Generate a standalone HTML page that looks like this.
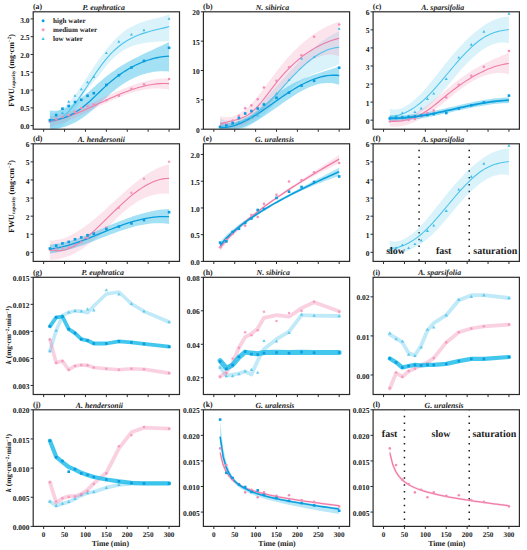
<!DOCTYPE html>
<html><head><meta charset="utf-8"><style>html,body{margin:0;padding:0;background:#fff;width:527px;height:550px;overflow:hidden}svg{display:block}</style></head>
<body><svg text-rendering="geometricPrecision" width="527" height="550" viewBox="0 0 527 550">
<rect width="527" height="550" fill="#fff"/>
<clipPath id="c00"><rect x="33.2" y="11.8" width="146.3" height="117.4"/></clipPath>
<g clip-path="url(#c00)">
<path d="M49.9,110.51 L52.95,110.84 L56.01,110.75 L59.06,110.27 L62.12,109.43 L65.17,108.26 L68.22,106.8 L71.28,105.07 L74.33,103.11 L77.38,100.95 L80.44,98.61 L83.49,96.14 L86.55,93.56 L89.6,90.91 L92.65,88.21 L95.71,85.5 L98.76,82.81 L101.82,80.17 L104.87,77.61 L107.92,75.16 L110.98,72.85 L114.03,70.65 L117.08,68.57 L120.14,66.6 L123.19,64.72 L126.25,62.93 L129.3,61.21 L132.35,59.57 L135.41,57.98 L138.46,56.45 L141.52,54.96 L144.57,53.5 L147.62,52.07 L150.68,50.66 L153.73,49.25 L156.78,47.85 L159.84,46.43 L162.89,45 L165.95,43.54 L169,42.04 L169,71.62 L165.95,71.36 L162.89,71.26 L159.84,71.31 L156.78,71.51 L153.73,71.87 L150.68,72.39 L147.62,73.06 L144.57,73.89 L141.52,74.87 L138.46,76.01 L135.41,77.31 L132.35,78.75 L129.3,80.36 L126.25,82.12 L123.19,84.03 L120.14,86.1 L117.08,88.32 L114.03,90.69 L110.98,93.23 L107.92,95.91 L104.87,98.71 L101.82,101.58 L98.76,104.45 L95.71,107.29 L92.65,110.03 L89.6,112.62 L86.55,115.03 L83.49,117.26 L80.44,119.3 L77.38,121.16 L74.33,122.83 L71.28,124.31 L68.22,125.6 L65.17,126.69 L62.12,127.59 L59.06,128.29 L56.01,128.8 L52.95,129.1 L49.9,129.19 Z" fill="#1cb4e6" fill-opacity="0.4"/>
<path d="M49.9,116.46 L52.95,115.99 L56.01,115.41 L59.06,114.73 L62.12,113.96 L65.17,113.1 L68.22,112.16 L71.28,111.14 L74.33,110.06 L77.38,108.92 L80.44,107.72 L83.49,106.47 L86.55,105.19 L89.6,103.86 L92.65,102.51 L95.71,101.14 L98.76,99.75 L101.82,98.35 L104.87,96.95 L107.92,95.56 L110.98,94.17 L114.03,92.8 L117.08,91.46 L120.14,90.15 L123.19,88.87 L126.25,87.64 L129.3,86.45 L132.35,85.32 L135.41,84.26 L138.46,83.26 L141.52,82.34 L144.57,81.51 L147.62,80.76 L150.68,80.1 L153.73,79.55 L156.78,79.11 L159.84,78.78 L162.89,78.58 L165.95,78.5 L169,78.56 L169,89.58 L165.95,89.07 L162.89,88.72 L159.84,88.52 L156.78,88.47 L153.73,88.57 L150.68,88.79 L147.62,89.14 L144.57,89.61 L141.52,90.2 L138.46,90.89 L135.41,91.68 L132.35,92.57 L129.3,93.54 L126.25,94.59 L123.19,95.71 L120.14,96.9 L117.08,98.15 L114.03,99.46 L110.98,100.8 L107.92,102.19 L104.87,103.61 L101.82,105.06 L98.76,106.53 L95.71,108.01 L92.65,109.49 L89.6,110.97 L86.55,112.45 L83.49,113.91 L80.44,115.35 L77.38,116.77 L74.33,118.14 L71.28,119.48 L68.22,120.77 L65.17,122 L62.12,123.18 L59.06,124.28 L56.01,125.31 L52.95,126.26 L49.9,127.12 Z" fill="#f07aa5" fill-opacity="0.2"/>
<path d="M49.9,113.29 L52.96,113.14 L56.02,112.27 L59.08,110.76 L62.15,108.65 L65.21,106.01 L68.27,102.91 L71.33,99.39 L74.39,95.53 L77.45,91.39 L80.52,87.03 L83.58,82.5 L86.64,77.87 L89.7,73.21 L92.76,68.57 L95.82,64.01 L98.88,59.58 L101.95,55.31 L105.01,51.22 L108.07,47.34 L111.13,43.69 L114.19,40.3 L117.25,37.2 L120.32,34.41 L123.38,31.93 L126.44,29.75 L129.5,27.83 L132.56,26.14 L135.62,24.66 L138.68,23.37 L141.75,22.24 L144.81,21.23 L147.87,20.32 L150.93,19.49 L153.99,18.71 L157.05,17.95 L160.12,17.19 L163.18,16.39 L166.24,15.53 L169.3,14.59 L169.3,41.1 L166.24,41.27 L163.18,41.41 L160.12,41.55 L157.05,41.7 L153.99,41.89 L150.93,42.14 L147.87,42.46 L144.81,42.89 L141.75,43.44 L138.68,44.14 L135.62,45 L132.56,46.05 L129.5,47.31 L126.44,48.8 L123.38,50.54 L120.32,52.55 L117.25,54.85 L114.19,57.48 L111.13,60.44 L108.07,63.76 L105.01,67.45 L101.95,71.41 L98.88,75.4 L95.82,79.22 L92.76,82.75 L89.7,86.3 L86.64,90.27 L83.58,95.05 L80.52,100.58 L77.45,106.34 L74.39,111.81 L71.33,116.59 L68.27,120.61 L65.21,123.85 L62.15,126.31 L59.08,127.96 L56.02,128.8 L52.96,128.79 L49.9,127.93 Z" fill="#4ec4ec" fill-opacity="0.21"/>
<path d="M49.9,120.95 L52.96,121.14 L56.02,120.56 L59.08,119.28 L62.15,117.36 L65.21,114.87 L68.27,111.88 L71.33,108.44 L74.39,104.64 L77.45,100.52 L80.52,96.16 L83.58,91.63 L86.64,86.98 L89.7,82.29 L92.76,77.61 L95.82,73.02 L98.88,68.57 L101.95,64.34 L105.01,60.39 L108.07,56.77 L111.13,53.47 L114.19,50.47 L117.25,47.75 L120.32,45.29 L123.38,43.07 L126.44,41.08 L129.5,39.3 L132.56,37.71 L135.62,36.29 L138.68,35.02 L141.75,33.88 L144.81,32.86 L147.87,31.93 L150.93,31.08 L153.99,30.29 L157.05,29.54 L160.12,28.81 L163.18,28.09 L166.24,27.35 L169.3,26.57" fill="none" stroke="#4ec4ec" stroke-width="1.1" stroke-opacity="1" stroke-linejoin="round" stroke-linecap="butt"/>
<path d="M49.9,121.58 L52.95,120.94 L56.01,120.21 L59.06,119.39 L62.12,118.49 L65.17,117.51 L68.22,116.46 L71.28,115.35 L74.33,114.18 L77.38,112.96 L80.44,111.7 L83.49,110.4 L86.55,109.07 L89.6,107.71 L92.65,106.33 L95.71,104.94 L98.76,103.54 L101.82,102.14 L104.87,100.74 L107.92,99.36 L110.98,97.99 L114.03,96.65 L117.08,95.34 L120.14,94.06 L123.19,92.83 L126.25,91.65 L129.3,90.52 L132.35,89.45 L135.41,88.45 L138.46,87.52 L141.52,86.67 L144.57,85.91 L147.62,85.24 L150.68,84.67 L153.73,84.21 L156.78,83.85 L159.84,83.62 L162.89,83.5 L165.95,83.52 L169,83.67" fill="none" stroke="#f07aa5" stroke-width="1.1" stroke-opacity="1" stroke-linejoin="round" stroke-linecap="butt"/>
<path d="M49.9,119.91 L52.95,119.91 L56.01,119.65 L59.06,119.13 L62.12,118.37 L65.17,117.36 L68.22,116.12 L71.28,114.65 L74.33,112.96 L77.38,111.05 L80.44,108.93 L83.49,106.62 L86.55,104.1 L89.6,101.4 L92.65,98.56 L95.71,95.64 L98.76,92.68 L101.82,89.73 L104.87,86.85 L107.92,84.08 L110.98,81.45 L114.03,78.96 L117.08,76.61 L120.14,74.39 L123.19,72.3 L126.25,70.35 L129.3,68.53 L132.35,66.83 L135.41,65.27 L138.46,63.83 L141.52,62.51 L144.57,61.32 L147.62,60.25 L150.68,59.3 L153.73,58.47 L156.78,57.75 L159.84,57.15 L162.89,56.67 L165.95,56.3 L169,56.04" fill="none" stroke="#0a9fdc" stroke-width="1.3" stroke-opacity="1" stroke-linejoin="round" stroke-linecap="butt"/>
<path d="M49.92,119.89 L51.46,122.55 L48.38,122.55 Z" fill="#40bde8" fill-opacity="1"/>
<path d="M56.19,116.89 L57.73,119.55 L54.65,119.55 Z" fill="#40bde8" fill-opacity="1"/>
<path d="M62.46,111.39 L64,114.05 L60.92,114.05 Z" fill="#40bde8" fill-opacity="1"/>
<path d="M68.73,100.09 L70.27,102.75 L67.19,102.75 Z" fill="#40bde8" fill-opacity="1"/>
<path d="M75,94.19 L76.54,96.85 L73.46,96.85 Z" fill="#40bde8" fill-opacity="1"/>
<path d="M81.27,87.69 L82.81,90.35 L79.73,90.35 Z" fill="#40bde8" fill-opacity="1"/>
<path d="M87.54,80.69 L89.08,83.35 L86,83.35 Z" fill="#40bde8" fill-opacity="1"/>
<path d="M93.81,75.29 L95.35,77.95 L92.27,77.95 Z" fill="#40bde8" fill-opacity="1"/>
<path d="M106.35,51.39 L107.89,54.05 L104.81,54.05 Z" fill="#40bde8" fill-opacity="1"/>
<path d="M118.89,39.99 L120.43,42.65 L117.35,42.65 Z" fill="#40bde8" fill-opacity="1"/>
<path d="M131.43,32.89 L132.97,35.55 L129.89,35.55 Z" fill="#40bde8" fill-opacity="1"/>
<path d="M143.97,28.59 L145.51,31.25 L142.43,31.25 Z" fill="#40bde8" fill-opacity="1"/>
<path d="M169.05,17.19 L170.59,19.85 L167.51,19.85 Z" fill="#40bde8" fill-opacity="1"/>
<circle cx="49.92" cy="121" r="1.3" fill="#f48fb8" fill-opacity="1"/>
<circle cx="56.19" cy="119" r="1.3" fill="#f48fb8" fill-opacity="1"/>
<circle cx="62.46" cy="117" r="1.3" fill="#f48fb8" fill-opacity="1"/>
<circle cx="68.73" cy="115" r="1.3" fill="#f48fb8" fill-opacity="1"/>
<circle cx="75" cy="111.9" r="1.3" fill="#f48fb8" fill-opacity="1"/>
<circle cx="81.27" cy="108" r="1.3" fill="#f48fb8" fill-opacity="1"/>
<circle cx="87.54" cy="106" r="1.3" fill="#f48fb8" fill-opacity="1"/>
<circle cx="93.81" cy="104.6" r="1.3" fill="#f48fb8" fill-opacity="1"/>
<circle cx="106.35" cy="100.2" r="1.3" fill="#f48fb8" fill-opacity="1"/>
<circle cx="118.89" cy="95.7" r="1.3" fill="#f48fb8" fill-opacity="1"/>
<circle cx="131.43" cy="88.8" r="1.3" fill="#f48fb8" fill-opacity="1"/>
<circle cx="143.97" cy="84.3" r="1.3" fill="#f48fb8" fill-opacity="1"/>
<circle cx="169.05" cy="79" r="1.3" fill="#f48fb8" fill-opacity="1"/>
<rect x="48.62" y="118.9" width="2.6" height="2.6" fill="#0a9ce0" fill-opacity="1"/>
<rect x="54.89" y="113.8" width="2.6" height="2.6" fill="#0a9ce0" fill-opacity="1"/>
<rect x="61.16" y="107.4" width="2.6" height="2.6" fill="#0a9ce0" fill-opacity="1"/>
<rect x="67.43" y="104.7" width="2.6" height="2.6" fill="#0a9ce0" fill-opacity="1"/>
<rect x="73.7" y="100.7" width="2.6" height="2.6" fill="#0a9ce0" fill-opacity="1"/>
<rect x="79.97" y="98.5" width="2.6" height="2.6" fill="#0a9ce0" fill-opacity="1"/>
<rect x="86.24" y="94.5" width="2.6" height="2.6" fill="#0a9ce0" fill-opacity="1"/>
<rect x="92.51" y="91.9" width="2.6" height="2.6" fill="#0a9ce0" fill-opacity="1"/>
<rect x="105.05" y="83.6" width="2.6" height="2.6" fill="#0a9ce0" fill-opacity="1"/>
<rect x="117.59" y="73.9" width="2.6" height="2.6" fill="#0a9ce0" fill-opacity="1"/>
<rect x="130.13" y="66.2" width="2.6" height="2.6" fill="#0a9ce0" fill-opacity="1"/>
<rect x="142.67" y="59.6" width="2.6" height="2.6" fill="#0a9ce0" fill-opacity="1"/>
<rect x="167.75" y="46.5" width="2.6" height="2.6" fill="#0a9ce0" fill-opacity="1"/>
</g>
<rect x="33.2" y="11.8" width="146.3" height="117.4" fill="none" stroke="#2b2b2b" stroke-width="1.2"/>
<line x1="30.6" y1="125.64" x2="33.2" y2="125.64" stroke="#2b2b2b" stroke-width="1"/>
<text x="29.6" y="129.24" text-anchor="end" style="font-family:'Liberation Serif',serif;font-weight:bold;font-size:7.5px" fill="#1a1a1a">0.0</text>
<line x1="30.6" y1="107.85" x2="33.2" y2="107.85" stroke="#2b2b2b" stroke-width="1"/>
<text x="29.6" y="111.45" text-anchor="end" style="font-family:'Liberation Serif',serif;font-weight:bold;font-size:7.5px" fill="#1a1a1a">0.5</text>
<line x1="30.6" y1="90.07" x2="33.2" y2="90.07" stroke="#2b2b2b" stroke-width="1"/>
<text x="29.6" y="93.67" text-anchor="end" style="font-family:'Liberation Serif',serif;font-weight:bold;font-size:7.5px" fill="#1a1a1a">1.0</text>
<line x1="30.6" y1="72.28" x2="33.2" y2="72.28" stroke="#2b2b2b" stroke-width="1"/>
<text x="29.6" y="75.88" text-anchor="end" style="font-family:'Liberation Serif',serif;font-weight:bold;font-size:7.5px" fill="#1a1a1a">1.5</text>
<line x1="30.6" y1="54.49" x2="33.2" y2="54.49" stroke="#2b2b2b" stroke-width="1"/>
<text x="29.6" y="58.09" text-anchor="end" style="font-family:'Liberation Serif',serif;font-weight:bold;font-size:7.5px" fill="#1a1a1a">2.0</text>
<line x1="30.6" y1="36.7" x2="33.2" y2="36.7" stroke="#2b2b2b" stroke-width="1"/>
<text x="29.6" y="40.3" text-anchor="end" style="font-family:'Liberation Serif',serif;font-weight:bold;font-size:7.5px" fill="#1a1a1a">2.5</text>
<line x1="30.6" y1="18.92" x2="33.2" y2="18.92" stroke="#2b2b2b" stroke-width="1"/>
<text x="29.6" y="22.52" text-anchor="end" style="font-family:'Liberation Serif',serif;font-weight:bold;font-size:7.5px" fill="#1a1a1a">3.0</text>
<line x1="43.65" y1="129.2" x2="43.65" y2="131.8" stroke="#2b2b2b" stroke-width="1"/>
<line x1="64.55" y1="129.2" x2="64.55" y2="131.8" stroke="#2b2b2b" stroke-width="1"/>
<line x1="85.45" y1="129.2" x2="85.45" y2="131.8" stroke="#2b2b2b" stroke-width="1"/>
<line x1="106.35" y1="129.2" x2="106.35" y2="131.8" stroke="#2b2b2b" stroke-width="1"/>
<line x1="127.25" y1="129.2" x2="127.25" y2="131.8" stroke="#2b2b2b" stroke-width="1"/>
<line x1="148.15" y1="129.2" x2="148.15" y2="131.8" stroke="#2b2b2b" stroke-width="1"/>
<line x1="169.05" y1="129.2" x2="169.05" y2="131.8" stroke="#2b2b2b" stroke-width="1"/>
<text x="32.9" y="9" style="font-family:'Liberation Serif',serif;font-weight:bold;font-size:7.8px" fill="#1a1a1a">(a)</text>
<text x="103.7" y="9.7" text-anchor="middle" style="font-family:'Liberation Serif',serif;font-weight:bold;font-style:italic;font-size:7.8px" fill="#1a1a1a">P. euphratica</text>
<circle cx="43.1" cy="20.8" r="1.5" fill="#0aa0e2"/>
<text x="53.1" y="23.2" style="font-family:'Liberation Serif',serif;font-weight:bold;font-size:7.1px" fill="#1a1a1a">high water</text>
<circle cx="43.1" cy="29.8" r="1.5" fill="#f59ac0"/>
<text x="53.1" y="32.2" style="font-family:'Liberation Serif',serif;font-weight:bold;font-size:7.1px" fill="#1a1a1a">medium water</text>
<path d="M43.1,37.1 L44.8,39.9 L41.4,39.9 Z" fill="#4fc4ec"/>
<text x="53.1" y="41.2" style="font-family:'Liberation Serif',serif;font-weight:bold;font-size:7.1px" fill="#1a1a1a">low water</text>
<clipPath id="c10"><rect x="203.4" y="11.8" width="146.2" height="117.4"/></clipPath>
<g clip-path="url(#c10)">
<path d="M220.1,118.19 L223.15,119.73 L226.21,120.72 L229.26,121.2 L232.32,121.18 L235.37,120.71 L238.42,119.82 L241.48,118.54 L244.53,116.9 L247.58,114.93 L250.64,112.67 L253.69,110.15 L256.75,107.4 L259.8,104.45 L262.85,101.34 L265.91,98.1 L268.96,94.76 L272.02,91.35 L275.07,87.91 L278.12,84.46 L281.18,81.03 L284.23,77.63 L287.28,74.27 L290.34,70.94 L293.39,67.68 L296.45,64.47 L299.5,61.34 L302.55,58.29 L305.61,55.33 L308.66,52.47 L311.72,49.72 L314.77,47.08 L317.82,44.57 L320.88,42.2 L323.93,39.97 L326.98,37.9 L330.04,35.99 L333.09,34.25 L336.15,32.69 L339.2,31.32 L339.2,64.28 L336.15,65.59 L333.09,66.8 L330.04,67.94 L326.98,69.03 L323.93,70.1 L320.88,71.2 L317.82,72.34 L314.77,73.55 L311.72,74.87 L308.66,76.33 L305.61,77.95 L302.55,79.77 L299.5,81.81 L296.45,84.07 L293.39,86.52 L290.34,89.13 L287.28,91.87 L284.23,94.71 L281.18,97.64 L278.12,100.62 L275.07,103.62 L272.02,106.61 L268.96,109.58 L265.91,112.48 L262.85,115.3 L259.8,118 L256.75,120.56 L253.69,122.95 L250.64,125.14 L247.58,127.11 L244.53,128.82 L241.48,130.25 L238.42,131.38 L235.37,132.17 L232.32,132.6 L229.26,132.64 L226.21,132.25 L223.15,131.43 L220.1,130.13 Z" fill="#4ec4ec" fill-opacity="0.21"/>
<path d="M220.1,121.89 L223.15,122.65 L226.21,123.04 L229.26,123.07 L232.32,122.77 L235.37,122.16 L238.42,121.24 L241.48,120.05 L244.53,118.61 L247.58,116.92 L250.64,115.02 L253.69,112.91 L256.75,110.63 L259.8,108.18 L262.85,105.62 L265.91,102.99 L268.96,100.35 L272.02,97.75 L275.07,95.24 L278.12,92.89 L281.18,90.69 L284.23,88.66 L287.28,86.76 L290.34,85.01 L293.39,83.37 L296.45,81.85 L299.5,80.44 L302.55,79.11 L305.61,77.87 L308.66,76.69 L311.72,75.58 L314.77,74.51 L317.82,73.48 L320.88,72.48 L323.93,71.49 L326.98,70.51 L330.04,69.53 L333.09,68.53 L336.15,67.5 L339.2,66.44 L339.2,84.85 L336.15,83.94 L333.09,83.32 L330.04,83 L326.98,82.95 L323.93,83.16 L320.88,83.61 L317.82,84.29 L314.77,85.18 L311.72,86.26 L308.66,87.52 L305.61,88.94 L302.55,90.51 L299.5,92.21 L296.45,94.02 L293.39,95.93 L290.34,97.93 L287.28,99.99 L284.23,102.1 L281.18,104.24 L278.12,106.41 L275.07,108.58 L272.02,110.73 L268.96,112.85 L265.91,114.93 L262.85,116.95 L259.8,118.89 L256.75,120.74 L253.69,122.48 L250.64,124.09 L247.58,125.56 L244.53,126.88 L241.48,128.02 L238.42,128.98 L235.37,129.73 L232.32,130.26 L229.26,130.55 L226.21,130.59 L223.15,130.36 L220.1,129.85 Z" fill="#1cb4e6" fill-opacity="0.4"/>
<path d="M220.1,116.1 L223.15,116.89 L226.21,117.21 L229.26,117.07 L232.32,116.48 L235.37,115.47 L238.42,114.04 L241.48,112.21 L244.53,110 L247.58,107.41 L250.64,104.47 L253.69,101.19 L256.75,97.61 L259.8,93.79 L262.85,89.8 L265.91,85.7 L268.96,81.54 L272.02,77.39 L275.07,73.3 L278.12,69.33 L281.18,65.52 L284.23,61.86 L287.28,58.35 L290.34,54.99 L293.39,51.78 L296.45,48.73 L299.5,45.82 L302.55,43.07 L305.61,40.47 L308.66,38.02 L311.72,35.72 L314.77,33.57 L317.82,31.56 L320.88,29.71 L323.93,28.01 L326.98,26.45 L330.04,25.04 L333.09,23.78 L336.15,22.67 L339.2,21.71 L339.2,56.13 L336.15,55.25 L333.09,54.73 L330.04,54.57 L326.98,54.76 L323.93,55.28 L320.88,56.14 L317.82,57.31 L314.77,58.8 L311.72,60.58 L308.66,62.65 L305.61,64.97 L302.55,67.54 L299.5,70.33 L296.45,73.32 L293.39,76.49 L290.34,79.82 L287.28,83.29 L284.23,86.86 L281.18,90.5 L278.12,94.15 L275.07,97.78 L272.02,101.33 L268.96,104.77 L265.91,108.06 L262.85,111.14 L259.8,113.99 L256.75,116.6 L253.69,118.98 L250.64,121.1 L247.58,122.97 L244.53,124.59 L241.48,125.95 L238.42,127.04 L235.37,127.87 L232.32,128.42 L229.26,128.69 L226.21,128.67 L223.15,128.37 L220.1,127.78 Z" fill="#f07aa5" fill-opacity="0.2"/>
<path d="M220.1,126.3 L223.15,126.11 L226.21,125.77 L229.26,125.29 L232.32,124.65 L235.37,123.84 L238.42,122.86 L241.48,121.7 L244.53,120.36 L247.58,118.81 L250.64,117.06 L253.69,115.09 L256.75,112.9 L259.8,110.48 L262.85,107.85 L265.91,105.03 L268.96,102.05 L272.02,98.94 L275.07,95.72 L278.12,92.42 L281.18,89.07 L284.23,85.7 L287.28,82.33 L290.34,78.99 L293.39,75.72 L296.45,72.54 L299.5,69.48 L302.55,66.57 L305.61,63.82 L308.66,61.26 L311.72,58.88 L314.77,56.69 L317.82,54.72 L320.88,52.95 L323.93,51.4 L326.98,50.08 L330.04,49 L333.09,48.17 L336.15,47.59 L339.2,47.28" fill="none" stroke="#4ec4ec" stroke-width="1.1" stroke-opacity="1" stroke-linejoin="round" stroke-linecap="butt"/>
<path d="M220.1,124.27 L223.15,123.13 L226.21,122.22 L229.26,121.44 L232.32,120.71 L235.37,119.96 L238.42,119.11 L241.48,118.07 L244.53,116.76 L247.58,115.11 L250.64,113.03 L253.69,110.45 L256.75,107.4 L259.8,103.98 L262.85,100.27 L265.91,96.37 L268.96,92.35 L272.02,88.3 L275.07,84.32 L278.12,80.49 L281.18,76.84 L284.23,73.38 L287.28,70.11 L290.34,67.01 L293.39,64.08 L296.45,61.33 L299.5,58.74 L302.55,56.31 L305.61,54.04 L308.66,51.92 L311.72,49.96 L314.77,48.14 L317.82,46.46 L320.88,44.92 L323.93,43.51 L326.98,42.23 L330.04,41.08 L333.09,40.04 L336.15,39.13 L339.2,38.33" fill="none" stroke="#f07aa5" stroke-width="1.1" stroke-opacity="1" stroke-linejoin="round" stroke-linecap="butt"/>
<path d="M220.1,127.48 L223.15,127.54 L226.21,127.33 L229.26,126.88 L232.32,126.19 L235.37,125.3 L238.42,124.21 L241.48,122.94 L244.53,121.5 L247.58,119.92 L250.64,118.21 L253.69,116.38 L256.75,114.45 L259.8,112.45 L262.85,110.38 L265.91,108.26 L268.96,106.1 L272.02,103.93 L275.07,101.77 L278.12,99.61 L281.18,97.49 L284.23,95.41 L287.28,93.38 L290.34,91.4 L293.39,89.49 L296.45,87.66 L299.5,85.92 L302.55,84.27 L305.61,82.73 L308.66,81.31 L311.72,80.01 L314.77,78.84 L317.82,77.82 L320.88,76.95 L323.93,76.25 L326.98,75.72 L330.04,75.37 L333.09,75.21 L336.15,75.26 L339.2,75.51" fill="none" stroke="#0a9fdc" stroke-width="1.3" stroke-opacity="1" stroke-linejoin="round" stroke-linecap="butt"/>
<path d="M220.11,125.39 L221.65,128.05 L218.57,128.05 Z" fill="#40bde8" fill-opacity="1"/>
<path d="M226.37,124.39 L227.91,127.05 L224.83,127.05 Z" fill="#40bde8" fill-opacity="1"/>
<path d="M232.64,122.39 L234.18,125.05 L231.1,125.05 Z" fill="#40bde8" fill-opacity="1"/>
<path d="M238.91,120.39 L240.45,123.05 L237.37,123.05 Z" fill="#40bde8" fill-opacity="1"/>
<path d="M245.17,118.39 L246.71,121.05 L243.63,121.05 Z" fill="#40bde8" fill-opacity="1"/>
<path d="M251.44,116.39 L252.98,119.05 L249.9,119.05 Z" fill="#40bde8" fill-opacity="1"/>
<path d="M257.7,113.89 L259.24,116.55 L256.16,116.55 Z" fill="#40bde8" fill-opacity="1"/>
<path d="M263.97,102.39 L265.51,105.05 L262.43,105.05 Z" fill="#40bde8" fill-opacity="1"/>
<path d="M276.5,92.09 L278.04,94.75 L274.96,94.75 Z" fill="#40bde8" fill-opacity="1"/>
<path d="M289.03,78.39 L290.57,81.05 L287.49,81.05 Z" fill="#40bde8" fill-opacity="1"/>
<path d="M301.56,56.79 L303.1,59.45 L300.02,59.45 Z" fill="#40bde8" fill-opacity="1"/>
<path d="M314.09,55.39 L315.63,58.05 L312.55,58.05 Z" fill="#40bde8" fill-opacity="1"/>
<path d="M339.16,27.19 L340.7,29.85 L337.62,29.85 Z" fill="#40bde8" fill-opacity="1"/>
<circle cx="220.11" cy="126.5" r="1.3" fill="#f48fb8" fill-opacity="1"/>
<circle cx="226.37" cy="124.3" r="1.3" fill="#f48fb8" fill-opacity="1"/>
<circle cx="232.64" cy="120.6" r="1.3" fill="#f48fb8" fill-opacity="1"/>
<circle cx="238.91" cy="115.8" r="1.3" fill="#f48fb8" fill-opacity="1"/>
<circle cx="245.17" cy="108.3" r="1.3" fill="#f48fb8" fill-opacity="1"/>
<circle cx="251.44" cy="105.4" r="1.3" fill="#f48fb8" fill-opacity="1"/>
<circle cx="257.7" cy="99.3" r="1.3" fill="#f48fb8" fill-opacity="1"/>
<circle cx="263.97" cy="87.5" r="1.3" fill="#f48fb8" fill-opacity="1"/>
<circle cx="276.5" cy="80.8" r="1.3" fill="#f48fb8" fill-opacity="1"/>
<circle cx="289.03" cy="67.3" r="1.3" fill="#f48fb8" fill-opacity="1"/>
<circle cx="301.56" cy="55.2" r="1.3" fill="#f48fb8" fill-opacity="1"/>
<circle cx="314.09" cy="36.8" r="1.3" fill="#f48fb8" fill-opacity="1"/>
<circle cx="339.16" cy="24.5" r="1.3" fill="#f48fb8" fill-opacity="1"/>
<rect x="218.81" y="125.7" width="2.6" height="2.6" fill="#0a9ce0" fill-opacity="1"/>
<rect x="225.07" y="124.2" width="2.6" height="2.6" fill="#0a9ce0" fill-opacity="1"/>
<rect x="231.34" y="121.7" width="2.6" height="2.6" fill="#0a9ce0" fill-opacity="1"/>
<rect x="237.61" y="116.7" width="2.6" height="2.6" fill="#0a9ce0" fill-opacity="1"/>
<rect x="243.87" y="112.2" width="2.6" height="2.6" fill="#0a9ce0" fill-opacity="1"/>
<rect x="250.14" y="109.7" width="2.6" height="2.6" fill="#0a9ce0" fill-opacity="1"/>
<rect x="256.4" y="107.2" width="2.6" height="2.6" fill="#0a9ce0" fill-opacity="1"/>
<rect x="262.67" y="103.2" width="2.6" height="2.6" fill="#0a9ce0" fill-opacity="1"/>
<rect x="275.2" y="96.5" width="2.6" height="2.6" fill="#0a9ce0" fill-opacity="1"/>
<rect x="287.73" y="91.3" width="2.6" height="2.6" fill="#0a9ce0" fill-opacity="1"/>
<rect x="300.26" y="84.3" width="2.6" height="2.6" fill="#0a9ce0" fill-opacity="1"/>
<rect x="312.79" y="79.5" width="2.6" height="2.6" fill="#0a9ce0" fill-opacity="1"/>
<rect x="337.86" y="66.4" width="2.6" height="2.6" fill="#0a9ce0" fill-opacity="1"/>
</g>
<rect x="203.4" y="11.8" width="146.2" height="117.4" fill="none" stroke="#2b2b2b" stroke-width="1.2"/>
<line x1="200.8" y1="129.2" x2="203.4" y2="129.2" stroke="#2b2b2b" stroke-width="1"/>
<text x="199.8" y="132.8" text-anchor="end" style="font-family:'Liberation Serif',serif;font-weight:bold;font-size:7.5px" fill="#1a1a1a">0</text>
<line x1="200.8" y1="99.85" x2="203.4" y2="99.85" stroke="#2b2b2b" stroke-width="1"/>
<text x="199.8" y="103.45" text-anchor="end" style="font-family:'Liberation Serif',serif;font-weight:bold;font-size:7.5px" fill="#1a1a1a">5</text>
<line x1="200.8" y1="70.5" x2="203.4" y2="70.5" stroke="#2b2b2b" stroke-width="1"/>
<text x="199.8" y="74.1" text-anchor="end" style="font-family:'Liberation Serif',serif;font-weight:bold;font-size:7.5px" fill="#1a1a1a">10</text>
<line x1="200.8" y1="41.15" x2="203.4" y2="41.15" stroke="#2b2b2b" stroke-width="1"/>
<text x="199.8" y="44.75" text-anchor="end" style="font-family:'Liberation Serif',serif;font-weight:bold;font-size:7.5px" fill="#1a1a1a">15</text>
<line x1="200.8" y1="11.8" x2="203.4" y2="11.8" stroke="#2b2b2b" stroke-width="1"/>
<text x="199.8" y="15.4" text-anchor="end" style="font-family:'Liberation Serif',serif;font-weight:bold;font-size:7.5px" fill="#1a1a1a">20</text>
<line x1="213.84" y1="129.2" x2="213.84" y2="131.8" stroke="#2b2b2b" stroke-width="1"/>
<line x1="234.73" y1="129.2" x2="234.73" y2="131.8" stroke="#2b2b2b" stroke-width="1"/>
<line x1="255.61" y1="129.2" x2="255.61" y2="131.8" stroke="#2b2b2b" stroke-width="1"/>
<line x1="276.5" y1="129.2" x2="276.5" y2="131.8" stroke="#2b2b2b" stroke-width="1"/>
<line x1="297.39" y1="129.2" x2="297.39" y2="131.8" stroke="#2b2b2b" stroke-width="1"/>
<line x1="318.27" y1="129.2" x2="318.27" y2="131.8" stroke="#2b2b2b" stroke-width="1"/>
<line x1="339.16" y1="129.2" x2="339.16" y2="131.8" stroke="#2b2b2b" stroke-width="1"/>
<text x="203.1" y="9" style="font-family:'Liberation Serif',serif;font-weight:bold;font-size:7.8px" fill="#1a1a1a">(b)</text>
<text x="272.4" y="9.7" text-anchor="middle" style="font-family:'Liberation Serif',serif;font-weight:bold;font-style:italic;font-size:7.8px" fill="#1a1a1a">N. sibirica</text>
<clipPath id="c20"><rect x="373.1" y="11.8" width="146.3" height="117.4"/></clipPath>
<g clip-path="url(#c20)">
<path d="M389.8,108.85 L392.85,109.43 L395.91,109.46 L398.96,108.97 L402.02,108 L405.07,106.59 L408.12,104.77 L411.18,102.59 L414.23,100.07 L417.28,97.25 L420.34,94.18 L423.39,90.88 L426.45,87.39 L429.5,83.75 L432.55,79.99 L435.61,76.16 L438.66,72.29 L441.72,68.41 L444.77,64.56 L447.82,60.78 L450.88,57.09 L453.93,53.49 L456.98,50.01 L460.04,46.64 L463.09,43.4 L466.15,40.3 L469.2,37.34 L472.25,34.54 L475.31,31.91 L478.36,29.45 L481.42,27.17 L484.47,25.09 L487.52,23.21 L490.58,21.54 L493.63,20.1 L496.68,18.89 L499.74,17.91 L502.79,17.19 L505.85,16.73 L508.9,16.54 L508.9,43.2 L505.85,42.61 L502.79,42.42 L499.74,42.61 L496.68,43.15 L493.63,44.04 L490.58,45.24 L487.52,46.75 L484.47,48.54 L481.42,50.6 L478.36,52.91 L475.31,55.45 L472.25,58.2 L469.2,61.15 L466.15,64.28 L463.09,67.56 L460.04,70.99 L456.98,74.53 L453.93,78.16 L450.88,81.84 L447.82,85.51 L444.77,89.12 L441.72,92.64 L438.66,96.02 L435.61,99.25 L432.55,102.27 L429.5,105.08 L426.45,107.67 L423.39,110.04 L420.34,112.2 L417.28,114.14 L414.23,115.86 L411.18,117.37 L408.12,118.66 L405.07,119.73 L402.02,120.6 L398.96,121.24 L395.91,121.68 L392.85,121.9 L389.8,121.91 Z" fill="#4ec4ec" fill-opacity="0.21"/>
<path d="M389.8,117.31 L392.85,117.94 L395.91,118.2 L398.96,118.13 L402.02,117.74 L405.07,117.05 L408.12,116.08 L411.18,114.86 L414.23,113.41 L417.28,111.75 L420.34,109.91 L423.39,107.89 L426.45,105.74 L429.5,103.46 L432.55,101.08 L435.61,98.62 L438.66,96.1 L441.72,93.56 L444.77,90.99 L447.82,88.44 L450.88,85.92 L453.93,83.45 L456.98,81.06 L460.04,78.76 L463.09,76.56 L466.15,74.47 L469.2,72.48 L472.25,70.57 L475.31,68.75 L478.36,67.01 L481.42,65.35 L484.47,63.75 L487.52,62.22 L490.58,60.75 L493.63,59.33 L496.68,57.96 L499.74,56.63 L502.79,55.34 L505.85,54.08 L508.9,52.85 L508.9,74.27 L505.85,73.6 L502.79,73.19 L499.74,73.04 L496.68,73.12 L493.63,73.43 L490.58,73.96 L487.52,74.71 L484.47,75.66 L481.42,76.81 L478.36,78.14 L475.31,79.65 L472.25,81.32 L469.2,83.15 L466.15,85.14 L463.09,87.26 L460.04,89.51 L456.98,91.89 L453.93,94.36 L450.88,96.88 L447.82,99.42 L444.77,101.93 L441.72,104.38 L438.66,106.77 L435.61,109.08 L432.55,111.3 L429.5,113.42 L426.45,115.43 L423.39,117.31 L420.34,119.06 L417.28,120.66 L414.23,122.1 L411.18,123.37 L408.12,124.46 L405.07,125.36 L402.02,126.05 L398.96,126.52 L395.91,126.77 L392.85,126.78 L389.8,126.54 Z" fill="#f07aa5" fill-opacity="0.2"/>
<path d="M389.8,115.38 L392.85,115.48 L395.91,115.51 L398.96,115.46 L402.02,115.34 L405.07,115.15 L408.12,114.91 L411.18,114.6 L414.23,114.24 L417.28,113.83 L420.34,113.38 L423.39,112.88 L426.45,112.34 L429.5,111.76 L432.55,111.16 L435.61,110.53 L438.66,109.87 L441.72,109.2 L444.77,108.51 L447.82,107.81 L450.88,107.1 L453.93,106.39 L456.98,105.67 L460.04,104.96 L463.09,104.26 L466.15,103.57 L469.2,102.9 L472.25,102.25 L475.31,101.62 L478.36,101.01 L481.42,100.44 L484.47,99.9 L487.52,99.41 L490.58,98.95 L493.63,98.55 L496.68,98.19 L499.74,97.89 L502.79,97.64 L505.85,97.46 L508.9,97.35 L508.9,103.06 L505.85,103.15 L502.79,103.3 L499.74,103.52 L496.68,103.79 L493.63,104.12 L490.58,104.49 L487.52,104.91 L484.47,105.38 L481.42,105.88 L478.36,106.42 L475.31,106.99 L472.25,107.59 L469.2,108.21 L466.15,108.85 L463.09,109.51 L460.04,110.18 L456.98,110.86 L453.93,111.55 L450.88,112.24 L447.82,112.93 L444.77,113.62 L441.72,114.29 L438.66,114.95 L435.61,115.6 L432.55,116.23 L429.5,116.83 L426.45,117.41 L423.39,117.95 L420.34,118.47 L417.28,118.94 L414.23,119.37 L411.18,119.76 L408.12,120.1 L405.07,120.38 L402.02,120.61 L398.96,120.78 L395.91,120.89 L392.85,120.93 L389.8,120.9 Z" fill="#1cb4e6" fill-opacity="0.4"/>
<path d="M389.8,116.39 L392.85,116.19 L395.91,115.73 L398.96,115 L402.02,114.02 L405.07,112.79 L408.12,111.31 L411.18,109.58 L414.23,107.62 L417.28,105.42 L420.34,103 L423.39,100.36 L426.45,97.49 L429.5,94.42 L432.55,91.15 L435.61,87.74 L438.66,84.21 L441.72,80.59 L444.77,76.93 L447.82,73.25 L450.88,69.6 L453.93,65.98 L456.98,62.42 L460.04,58.96 L463.09,55.6 L466.15,52.37 L469.2,49.3 L472.25,46.41 L475.31,43.72 L478.36,41.25 L481.42,39.04 L484.47,37.09 L487.52,35.42 L490.58,34.01 L493.63,32.82 L496.68,31.85 L499.74,31.06 L502.79,30.43 L505.85,29.94 L508.9,29.55" fill="none" stroke="#4ec4ec" stroke-width="1.1" stroke-opacity="1" stroke-linejoin="round" stroke-linecap="butt"/>
<path d="M389.8,121.2 L392.85,121.36 L395.91,121.35 L398.96,121.16 L402.02,120.79 L405.07,120.24 L408.12,119.5 L411.18,118.58 L414.23,117.46 L417.28,116.16 L420.34,114.66 L423.39,112.96 L426.45,111.06 L429.5,108.96 L432.55,106.69 L435.61,104.28 L438.66,101.79 L441.72,99.26 L444.77,96.73 L447.82,94.24 L450.88,91.82 L453.93,89.48 L456.98,87.2 L460.04,85.01 L463.09,82.89 L466.15,80.86 L469.2,78.92 L472.25,77.08 L475.31,75.33 L478.36,73.68 L481.42,72.13 L484.47,70.69 L487.52,69.36 L490.58,68.15 L493.63,67.05 L496.68,66.07 L499.74,65.22 L502.79,64.5 L505.85,63.91 L508.9,63.46" fill="none" stroke="#f07aa5" stroke-width="1.1" stroke-opacity="1" stroke-linejoin="round" stroke-linecap="butt"/>
<path d="M389.8,118.2 L392.85,118.24 L395.91,118.21 L398.96,118.12 L402.02,117.96 L405.07,117.74 L408.12,117.47 L411.18,117.14 L414.23,116.77 L417.28,116.35 L420.34,115.89 L423.39,115.39 L426.45,114.86 L429.5,114.3 L432.55,113.7 L435.61,113.09 L438.66,112.45 L441.72,111.8 L444.77,111.13 L447.82,110.46 L450.88,109.77 L453.93,109.09 L456.98,108.4 L460.04,107.72 L463.09,107.05 L466.15,106.38 L469.2,105.74 L472.25,105.11 L475.31,104.5 L478.36,103.92 L481.42,103.37 L484.47,102.85 L487.52,102.36 L490.58,101.91 L493.63,101.51 L496.68,101.16 L499.74,100.85 L502.79,100.6 L505.85,100.4 L508.9,100.27" fill="none" stroke="#0a9fdc" stroke-width="1.8" stroke-opacity="1" stroke-linejoin="round" stroke-linecap="butt"/>
<path d="M389.82,116.39 L391.36,119.05 L388.28,119.05 Z" fill="#40bde8" fill-opacity="1"/>
<path d="M396.09,114.39 L397.63,117.05 L394.55,117.05 Z" fill="#40bde8" fill-opacity="1"/>
<path d="M402.36,111.39 L403.9,114.05 L400.82,114.05 Z" fill="#40bde8" fill-opacity="1"/>
<path d="M408.63,114.39 L410.17,117.05 L407.09,117.05 Z" fill="#40bde8" fill-opacity="1"/>
<path d="M414.9,110.39 L416.44,113.05 L413.36,113.05 Z" fill="#40bde8" fill-opacity="1"/>
<path d="M421.17,106.79 L422.71,109.45 L419.63,109.45 Z" fill="#40bde8" fill-opacity="1"/>
<path d="M427.44,97.29 L428.98,99.95 L425.9,99.95 Z" fill="#40bde8" fill-opacity="1"/>
<path d="M433.71,91.89 L435.25,94.55 L432.17,94.55 Z" fill="#40bde8" fill-opacity="1"/>
<path d="M446.25,77.29 L447.79,79.95 L444.71,79.95 Z" fill="#40bde8" fill-opacity="1"/>
<path d="M458.79,55.89 L460.33,58.55 L457.25,58.55 Z" fill="#40bde8" fill-opacity="1"/>
<path d="M471.33,42.99 L472.87,45.65 L469.79,45.65 Z" fill="#40bde8" fill-opacity="1"/>
<path d="M483.87,30.09 L485.41,32.75 L482.33,32.75 Z" fill="#40bde8" fill-opacity="1"/>
<path d="M508.95,12.09 L510.49,14.75 L507.41,14.75 Z" fill="#40bde8" fill-opacity="1"/>
<circle cx="389.82" cy="121.5" r="1.3" fill="#f48fb8" fill-opacity="1"/>
<circle cx="396.09" cy="121" r="1.3" fill="#f48fb8" fill-opacity="1"/>
<circle cx="402.36" cy="120.5" r="1.3" fill="#f48fb8" fill-opacity="1"/>
<circle cx="408.63" cy="120" r="1.3" fill="#f48fb8" fill-opacity="1"/>
<circle cx="414.9" cy="119" r="1.3" fill="#f48fb8" fill-opacity="1"/>
<circle cx="421.17" cy="116" r="1.3" fill="#f48fb8" fill-opacity="1"/>
<circle cx="427.44" cy="113" r="1.3" fill="#f48fb8" fill-opacity="1"/>
<circle cx="433.71" cy="110.6" r="1.3" fill="#f48fb8" fill-opacity="1"/>
<circle cx="446.25" cy="97.5" r="1.3" fill="#f48fb8" fill-opacity="1"/>
<circle cx="458.79" cy="84.9" r="1.3" fill="#f48fb8" fill-opacity="1"/>
<circle cx="471.33" cy="75.7" r="1.3" fill="#f48fb8" fill-opacity="1"/>
<circle cx="483.87" cy="66.7" r="1.3" fill="#f48fb8" fill-opacity="1"/>
<circle cx="508.95" cy="51" r="1.3" fill="#f48fb8" fill-opacity="1"/>
<rect x="388.52" y="117.2" width="2.6" height="2.6" fill="#0a9ce0" fill-opacity="1"/>
<rect x="394.79" y="116.7" width="2.6" height="2.6" fill="#0a9ce0" fill-opacity="1"/>
<rect x="401.06" y="116.2" width="2.6" height="2.6" fill="#0a9ce0" fill-opacity="1"/>
<rect x="407.33" y="115.7" width="2.6" height="2.6" fill="#0a9ce0" fill-opacity="1"/>
<rect x="413.6" y="115.2" width="2.6" height="2.6" fill="#0a9ce0" fill-opacity="1"/>
<rect x="419.87" y="114.2" width="2.6" height="2.6" fill="#0a9ce0" fill-opacity="1"/>
<rect x="426.14" y="113.7" width="2.6" height="2.6" fill="#0a9ce0" fill-opacity="1"/>
<rect x="432.41" y="112.7" width="2.6" height="2.6" fill="#0a9ce0" fill-opacity="1"/>
<rect x="444.95" y="111.7" width="2.6" height="2.6" fill="#0a9ce0" fill-opacity="1"/>
<rect x="457.49" y="107.2" width="2.6" height="2.6" fill="#0a9ce0" fill-opacity="1"/>
<rect x="470.03" y="104" width="2.6" height="2.6" fill="#0a9ce0" fill-opacity="1"/>
<rect x="482.57" y="101.2" width="2.6" height="2.6" fill="#0a9ce0" fill-opacity="1"/>
<rect x="507.65" y="94.3" width="2.6" height="2.6" fill="#0a9ce0" fill-opacity="1"/>
</g>
<rect x="373.1" y="11.8" width="146.3" height="117.4" fill="none" stroke="#2b2b2b" stroke-width="1.2"/>
<line x1="370.5" y1="120.17" x2="373.1" y2="120.17" stroke="#2b2b2b" stroke-width="1"/>
<text x="369.5" y="123.77" text-anchor="end" style="font-family:'Liberation Serif',serif;font-weight:bold;font-size:7.5px" fill="#1a1a1a">0</text>
<line x1="370.5" y1="102.11" x2="373.1" y2="102.11" stroke="#2b2b2b" stroke-width="1"/>
<text x="369.5" y="105.71" text-anchor="end" style="font-family:'Liberation Serif',serif;font-weight:bold;font-size:7.5px" fill="#1a1a1a">1</text>
<line x1="370.5" y1="84.05" x2="373.1" y2="84.05" stroke="#2b2b2b" stroke-width="1"/>
<text x="369.5" y="87.65" text-anchor="end" style="font-family:'Liberation Serif',serif;font-weight:bold;font-size:7.5px" fill="#1a1a1a">2</text>
<line x1="370.5" y1="65.98" x2="373.1" y2="65.98" stroke="#2b2b2b" stroke-width="1"/>
<text x="369.5" y="69.58" text-anchor="end" style="font-family:'Liberation Serif',serif;font-weight:bold;font-size:7.5px" fill="#1a1a1a">3</text>
<line x1="370.5" y1="47.92" x2="373.1" y2="47.92" stroke="#2b2b2b" stroke-width="1"/>
<text x="369.5" y="51.52" text-anchor="end" style="font-family:'Liberation Serif',serif;font-weight:bold;font-size:7.5px" fill="#1a1a1a">4</text>
<line x1="370.5" y1="29.86" x2="373.1" y2="29.86" stroke="#2b2b2b" stroke-width="1"/>
<text x="369.5" y="33.46" text-anchor="end" style="font-family:'Liberation Serif',serif;font-weight:bold;font-size:7.5px" fill="#1a1a1a">5</text>
<line x1="370.5" y1="11.8" x2="373.1" y2="11.8" stroke="#2b2b2b" stroke-width="1"/>
<text x="369.5" y="15.4" text-anchor="end" style="font-family:'Liberation Serif',serif;font-weight:bold;font-size:7.5px" fill="#1a1a1a">6</text>
<line x1="383.55" y1="129.2" x2="383.55" y2="131.8" stroke="#2b2b2b" stroke-width="1"/>
<line x1="404.45" y1="129.2" x2="404.45" y2="131.8" stroke="#2b2b2b" stroke-width="1"/>
<line x1="425.35" y1="129.2" x2="425.35" y2="131.8" stroke="#2b2b2b" stroke-width="1"/>
<line x1="446.25" y1="129.2" x2="446.25" y2="131.8" stroke="#2b2b2b" stroke-width="1"/>
<line x1="467.15" y1="129.2" x2="467.15" y2="131.8" stroke="#2b2b2b" stroke-width="1"/>
<line x1="488.05" y1="129.2" x2="488.05" y2="131.8" stroke="#2b2b2b" stroke-width="1"/>
<line x1="508.95" y1="129.2" x2="508.95" y2="131.8" stroke="#2b2b2b" stroke-width="1"/>
<text x="372.8" y="9" style="font-family:'Liberation Serif',serif;font-weight:bold;font-size:7.8px" fill="#1a1a1a">(c)</text>
<text x="442.7" y="9.7" text-anchor="middle" style="font-family:'Liberation Serif',serif;font-weight:bold;font-style:italic;font-size:7.8px" fill="#1a1a1a">A. sparsifolia</text>
<clipPath id="c01"><rect x="33.2" y="143.8" width="146.3" height="117.6"/></clipPath>
<g clip-path="url(#c01)">
<path d="M49.9,240.49 L52.95,240.43 L56.01,240.1 L59.06,239.53 L62.12,238.72 L65.17,237.68 L68.22,236.44 L71.28,234.99 L74.33,233.36 L77.38,231.57 L80.44,229.61 L83.49,227.51 L86.55,225.28 L89.6,222.93 L92.65,220.48 L95.71,217.93 L98.76,215.31 L101.82,212.63 L104.87,209.89 L107.92,207.12 L110.98,204.32 L114.03,201.52 L117.08,198.71 L120.14,195.93 L123.19,193.17 L126.25,190.45 L129.3,187.79 L132.35,185.2 L135.41,182.69 L138.46,180.28 L141.52,177.98 L144.57,175.8 L147.62,173.76 L150.68,171.87 L153.73,170.14 L156.78,168.59 L159.84,167.22 L162.89,166.06 L165.95,165.12 L169,164.41 L169,193.38 L165.95,193.41 L162.89,193.56 L159.84,193.86 L156.78,194.31 L153.73,194.93 L150.68,195.74 L147.62,196.74 L144.57,197.96 L141.52,199.4 L138.46,201.06 L135.41,202.94 L132.35,205.01 L129.3,207.27 L126.25,209.72 L123.19,212.33 L120.14,215.11 L117.08,218.04 L114.03,221.07 L110.98,224.16 L107.92,227.24 L104.87,230.24 L101.82,233.15 L98.76,235.94 L95.71,238.62 L92.65,241.17 L89.6,243.58 L86.55,245.86 L83.49,247.99 L80.44,249.97 L77.38,251.78 L74.33,253.43 L71.28,254.9 L68.22,256.19 L65.17,257.3 L62.12,258.2 L59.06,258.9 L56.01,259.4 L52.95,259.67 L49.9,259.72 Z" fill="#f07aa5" fill-opacity="0.2"/>
<path d="M49.9,244.68 L52.95,244.37 L56.01,243.95 L59.06,243.42 L62.12,242.8 L65.17,242.08 L68.22,241.27 L71.28,240.39 L74.33,239.43 L77.38,238.41 L80.44,237.33 L83.49,236.19 L86.55,235.02 L89.6,233.8 L92.65,232.56 L95.71,231.29 L98.76,230.01 L101.82,228.71 L104.87,227.42 L107.92,226.12 L110.98,224.84 L114.03,223.58 L117.08,222.33 L120.14,221.12 L123.19,219.93 L126.25,218.78 L129.3,217.67 L132.35,216.61 L135.41,215.6 L138.46,214.64 L141.52,213.74 L144.57,212.9 L147.62,212.13 L150.68,211.44 L153.73,210.82 L156.78,210.29 L159.84,209.84 L162.89,209.48 L165.95,209.22 L169,209.06 L169,223.89 L165.95,223.51 L162.89,223.26 L159.84,223.16 L156.78,223.18 L153.73,223.32 L150.68,223.57 L147.62,223.94 L144.57,224.4 L141.52,224.96 L138.46,225.6 L135.41,226.33 L132.35,227.14 L129.3,228.01 L126.25,228.94 L123.19,229.93 L120.14,230.97 L117.08,232.05 L114.03,233.17 L110.98,234.31 L107.92,235.48 L104.87,236.67 L101.82,237.87 L98.76,239.06 L95.71,240.26 L92.65,241.45 L89.6,242.62 L86.55,243.77 L83.49,244.89 L80.44,245.97 L77.38,247.01 L74.33,248 L71.28,248.94 L68.22,249.82 L65.17,250.63 L62.12,251.36 L59.06,252.01 L56.01,252.58 L52.95,253.05 L49.9,253.41 Z" fill="#1cb4e6" fill-opacity="0.4"/>
<path d="M49.9,249.86 L52.95,250.53 L56.01,250.83 L59.06,250.78 L62.12,250.4 L65.17,249.71 L68.22,248.72 L71.28,247.45 L74.33,245.91 L77.38,244.13 L80.44,242.11 L83.49,239.88 L86.55,237.47 L89.6,234.89 L92.65,232.17 L95.71,229.34 L98.76,226.42 L101.82,223.45 L104.87,220.44 L107.92,217.42 L110.98,214.42 L114.03,211.44 L117.08,208.51 L120.14,205.63 L123.19,202.81 L126.25,200.08 L129.3,197.45 L132.35,194.92 L135.41,192.53 L138.46,190.27 L141.52,188.16 L144.57,186.22 L147.62,184.46 L150.68,182.9 L153.73,181.54 L156.78,180.41 L159.84,179.52 L162.89,178.88 L165.95,178.5 L169,178.4" fill="none" stroke="#f07aa5" stroke-width="1.1" stroke-opacity="1" stroke-linejoin="round" stroke-linecap="butt"/>
<path d="M49.9,249.07 L52.95,248.7 L56.01,248.22 L59.06,247.64 L62.12,246.97 L65.17,246.21 L68.22,245.37 L71.28,244.46 L74.33,243.48 L77.38,242.45 L80.44,241.37 L83.49,240.24 L86.55,239.07 L89.6,237.88 L92.65,236.66 L95.71,235.42 L98.76,234.18 L101.82,232.94 L104.87,231.7 L107.92,230.47 L110.98,229.26 L114.03,228.07 L117.08,226.92 L120.14,225.79 L123.19,224.71 L126.25,223.67 L129.3,222.68 L132.35,221.74 L135.41,220.87 L138.46,220.06 L141.52,219.32 L144.57,218.65 L147.62,218.07 L150.68,217.57 L153.73,217.16 L156.78,216.85 L159.84,216.65 L162.89,216.55 L165.95,216.56 L169,216.69" fill="none" stroke="#0a9fdc" stroke-width="1.3" stroke-opacity="1" stroke-linejoin="round" stroke-linecap="butt"/>
<circle cx="49.92" cy="250" r="1.3" fill="#f48fb8" fill-opacity="0.8"/>
<circle cx="56.19" cy="249" r="1.3" fill="#f48fb8" fill-opacity="0.8"/>
<circle cx="62.46" cy="248" r="1.3" fill="#f48fb8" fill-opacity="0.8"/>
<circle cx="68.73" cy="247" r="1.3" fill="#f48fb8" fill-opacity="0.8"/>
<circle cx="75" cy="245" r="1.3" fill="#f48fb8" fill-opacity="0.8"/>
<circle cx="81.27" cy="242" r="1.3" fill="#f48fb8" fill-opacity="0.8"/>
<circle cx="87.54" cy="238" r="1.3" fill="#f48fb8" fill-opacity="0.8"/>
<circle cx="93.81" cy="233" r="1.3" fill="#f48fb8" fill-opacity="0.8"/>
<circle cx="106.35" cy="227.6" r="1.3" fill="#f48fb8" fill-opacity="0.8"/>
<circle cx="118.89" cy="207.7" r="1.3" fill="#f48fb8" fill-opacity="0.8"/>
<circle cx="131.43" cy="192.9" r="1.3" fill="#f48fb8" fill-opacity="0.8"/>
<circle cx="143.97" cy="178.7" r="1.3" fill="#f48fb8" fill-opacity="0.8"/>
<circle cx="169.05" cy="161.8" r="1.3" fill="#f48fb8" fill-opacity="0.8"/>
<rect x="48.62" y="247.2" width="2.6" height="2.6" fill="#0a9ce0" fill-opacity="1"/>
<rect x="54.89" y="244.3" width="2.6" height="2.6" fill="#0a9ce0" fill-opacity="1"/>
<rect x="61.16" y="242.1" width="2.6" height="2.6" fill="#0a9ce0" fill-opacity="1"/>
<rect x="67.43" y="240.6" width="2.6" height="2.6" fill="#0a9ce0" fill-opacity="1"/>
<rect x="73.7" y="238" width="2.6" height="2.6" fill="#0a9ce0" fill-opacity="1"/>
<rect x="79.97" y="236.1" width="2.6" height="2.6" fill="#0a9ce0" fill-opacity="1"/>
<rect x="86.24" y="233.9" width="2.6" height="2.6" fill="#0a9ce0" fill-opacity="1"/>
<rect x="92.51" y="232.4" width="2.6" height="2.6" fill="#0a9ce0" fill-opacity="1"/>
<rect x="105.05" y="227.7" width="2.6" height="2.6" fill="#0a9ce0" fill-opacity="1"/>
<rect x="117.59" y="225.3" width="2.6" height="2.6" fill="#0a9ce0" fill-opacity="1"/>
<rect x="130.13" y="222.1" width="2.6" height="2.6" fill="#0a9ce0" fill-opacity="1"/>
<rect x="142.67" y="218.8" width="2.6" height="2.6" fill="#0a9ce0" fill-opacity="1"/>
<rect x="167.75" y="210.9" width="2.6" height="2.6" fill="#0a9ce0" fill-opacity="1"/>
</g>
<rect x="33.2" y="143.8" width="146.3" height="117.6" fill="none" stroke="#2b2b2b" stroke-width="1.2"/>
<line x1="30.6" y1="252.35" x2="33.2" y2="252.35" stroke="#2b2b2b" stroke-width="1"/>
<text x="29.6" y="255.95" text-anchor="end" style="font-family:'Liberation Serif',serif;font-weight:bold;font-size:7.5px" fill="#1a1a1a">0</text>
<line x1="30.6" y1="234.26" x2="33.2" y2="234.26" stroke="#2b2b2b" stroke-width="1"/>
<text x="29.6" y="237.86" text-anchor="end" style="font-family:'Liberation Serif',serif;font-weight:bold;font-size:7.5px" fill="#1a1a1a">1</text>
<line x1="30.6" y1="216.17" x2="33.2" y2="216.17" stroke="#2b2b2b" stroke-width="1"/>
<text x="29.6" y="219.77" text-anchor="end" style="font-family:'Liberation Serif',serif;font-weight:bold;font-size:7.5px" fill="#1a1a1a">2</text>
<line x1="30.6" y1="198.08" x2="33.2" y2="198.08" stroke="#2b2b2b" stroke-width="1"/>
<text x="29.6" y="201.68" text-anchor="end" style="font-family:'Liberation Serif',serif;font-weight:bold;font-size:7.5px" fill="#1a1a1a">3</text>
<line x1="30.6" y1="179.98" x2="33.2" y2="179.98" stroke="#2b2b2b" stroke-width="1"/>
<text x="29.6" y="183.58" text-anchor="end" style="font-family:'Liberation Serif',serif;font-weight:bold;font-size:7.5px" fill="#1a1a1a">4</text>
<line x1="30.6" y1="161.89" x2="33.2" y2="161.89" stroke="#2b2b2b" stroke-width="1"/>
<text x="29.6" y="165.49" text-anchor="end" style="font-family:'Liberation Serif',serif;font-weight:bold;font-size:7.5px" fill="#1a1a1a">5</text>
<line x1="30.6" y1="143.8" x2="33.2" y2="143.8" stroke="#2b2b2b" stroke-width="1"/>
<text x="29.6" y="147.4" text-anchor="end" style="font-family:'Liberation Serif',serif;font-weight:bold;font-size:7.5px" fill="#1a1a1a">6</text>
<line x1="43.65" y1="261.4" x2="43.65" y2="264" stroke="#2b2b2b" stroke-width="1"/>
<line x1="64.55" y1="261.4" x2="64.55" y2="264" stroke="#2b2b2b" stroke-width="1"/>
<line x1="85.45" y1="261.4" x2="85.45" y2="264" stroke="#2b2b2b" stroke-width="1"/>
<line x1="106.35" y1="261.4" x2="106.35" y2="264" stroke="#2b2b2b" stroke-width="1"/>
<line x1="127.25" y1="261.4" x2="127.25" y2="264" stroke="#2b2b2b" stroke-width="1"/>
<line x1="148.15" y1="261.4" x2="148.15" y2="264" stroke="#2b2b2b" stroke-width="1"/>
<line x1="169.05" y1="261.4" x2="169.05" y2="264" stroke="#2b2b2b" stroke-width="1"/>
<text x="32.9" y="141" style="font-family:'Liberation Serif',serif;font-weight:bold;font-size:7.8px" fill="#1a1a1a">(d)</text>
<text x="101.3" y="141.7" text-anchor="middle" style="font-family:'Liberation Serif',serif;font-weight:bold;font-style:italic;font-size:7.8px" fill="#1a1a1a">A. hendersonii</text>
<clipPath id="c11"><rect x="203.4" y="143.8" width="146.2" height="117.6"/></clipPath>
<g clip-path="url(#c11)">
<path d="M220.11,241.94 L223.16,238.39 L226.21,235.28 L229.27,232.46 L232.32,229.85 L235.37,227.4 L238.42,225.07 L241.48,222.85 L244.53,220.71 L247.58,218.63 L250.63,216.62 L253.69,214.67 L256.74,212.75 L259.79,210.88 L262.84,209.04 L265.9,207.23 L268.95,205.45 L272,203.69 L275.05,201.95 L278.11,200.23 L281.16,198.53 L284.21,196.84 L287.26,195.17 L290.32,193.51 L293.37,191.85 L296.42,190.21 L299.47,188.57 L302.53,186.94 L305.58,185.31 L308.63,183.69 L311.68,182.07 L314.74,180.46 L317.79,178.85 L320.84,177.24 L323.89,175.63 L326.95,174.02 L330,172.41 L333.05,170.8 L336.1,169.18 L339.16,167.57 L339.16,175.97 L336.1,177.01 L333.05,178.08 L330,179.18 L326.95,180.31 L323.89,181.46 L320.84,182.64 L317.79,183.85 L314.74,185.09 L311.68,186.37 L308.63,187.67 L305.58,189 L302.53,190.37 L299.47,191.78 L296.42,193.21 L293.37,194.69 L290.32,196.2 L287.26,197.75 L284.21,199.34 L281.16,200.97 L278.11,202.64 L275.05,204.36 L272,206.12 L268.95,207.94 L265.9,209.8 L262.84,211.72 L259.79,213.71 L256.74,215.75 L253.69,217.86 L250.63,220.05 L247.58,222.31 L244.53,224.67 L241.48,227.12 L238.42,229.69 L235.37,232.39 L232.32,235.24 L229.27,238.27 L226.21,241.55 L223.16,245.14 L220.11,249.2 Z" fill="#1cb4e6" fill-opacity="0.35"/>
<path d="M220.11,244.22 L223.16,240.47 L226.21,237.09 L229.27,233.96 L232.32,231.02 L235.37,228.22 L238.42,225.53 L241.48,222.93 L244.53,220.41 L247.58,217.96 L250.63,215.56 L253.69,213.21 L256.74,210.91 L259.79,208.64 L262.84,206.4 L265.9,204.2 L268.95,202.02 L272,199.86 L275.05,197.72 L278.11,195.6 L281.16,193.5 L284.21,191.41 L287.26,189.34 L290.32,187.28 L293.37,185.22 L296.42,183.18 L299.47,181.14 L302.53,179.11 L305.58,177.08 L308.63,175.06 L311.68,173.05 L314.74,171.04 L317.79,169.03 L320.84,167.02 L323.89,165.01 L326.95,163.01 L330,161 L333.05,159 L336.1,156.99 L339.16,154.98 L339.16,163.38 L336.1,164.82 L333.05,166.28 L330,167.78 L326.95,169.3 L323.89,170.84 L320.84,172.42 L317.79,174.03 L314.74,175.67 L311.68,177.34 L308.63,179.04 L305.58,180.78 L302.53,182.54 L299.47,184.35 L296.42,186.18 L293.37,188.06 L290.32,189.97 L287.26,191.92 L284.21,193.9 L281.16,195.94 L278.11,198.01 L275.05,200.13 L272,202.29 L268.95,204.5 L265.9,206.77 L262.84,209.09 L259.79,211.46 L256.74,213.9 L253.69,216.41 L250.63,218.98 L247.58,221.64 L244.53,224.37 L241.48,227.2 L238.42,230.14 L235.37,233.2 L232.32,236.4 L229.27,239.77 L226.21,243.36 L223.16,247.22 L220.11,251.48 Z" fill="#f07aa5" fill-opacity="0.2"/>
<path d="M220.11,247.85 L223.16,243.84 L226.21,240.22 L229.27,236.87 L232.32,233.71 L235.37,230.71 L238.42,227.83 L241.48,225.07 L244.53,222.39 L247.58,219.8 L250.63,217.27 L253.69,214.81 L256.74,212.4 L259.79,210.05 L262.84,207.75 L265.9,205.48 L268.95,203.26 L272,201.08 L275.05,198.92 L278.11,196.81 L281.16,194.72 L284.21,192.66 L287.26,190.63 L290.32,188.62 L293.37,186.64 L296.42,184.68 L299.47,182.74 L302.53,180.83 L305.58,178.93 L308.63,177.05 L311.68,175.19 L314.74,173.35 L317.79,171.53 L320.84,169.72 L323.89,167.93 L326.95,166.15 L330,164.39 L333.05,162.64 L336.1,160.9 L339.16,159.18" fill="none" stroke="#f07aa5" stroke-width="1.3" stroke-opacity="1" stroke-linejoin="round" stroke-linecap="butt"/>
<path d="M220.11,245.57 L223.16,241.76 L226.21,238.41 L229.27,235.37 L232.32,232.54 L235.37,229.89 L238.42,227.38 L241.48,224.98 L244.53,222.69 L247.58,220.47 L250.63,218.34 L253.69,216.26 L256.74,214.25 L259.79,212.29 L262.84,210.38 L265.9,208.52 L268.95,206.69 L272,204.91 L275.05,203.16 L278.11,201.44 L281.16,199.75 L284.21,198.09 L287.26,196.46 L290.32,194.85 L293.37,193.27 L296.42,191.71 L299.47,190.17 L302.53,188.66 L305.58,187.16 L308.63,185.68 L311.68,184.22 L314.74,182.78 L317.79,181.35 L320.84,179.94 L323.89,178.54 L326.95,177.16 L330,175.79 L333.05,174.44 L336.1,173.1 L339.16,171.77" fill="none" stroke="#0a9fdc" stroke-width="1.6" stroke-opacity="1" stroke-linejoin="round" stroke-linecap="butt"/>
<circle cx="220.11" cy="247.3" r="1.3" fill="#f48fb8" fill-opacity="1"/>
<circle cx="226.37" cy="240" r="1.3" fill="#f48fb8" fill-opacity="1"/>
<circle cx="232.64" cy="233.8" r="1.3" fill="#f48fb8" fill-opacity="1"/>
<circle cx="238.91" cy="229" r="1.3" fill="#f48fb8" fill-opacity="1"/>
<circle cx="245.17" cy="225.8" r="1.3" fill="#f48fb8" fill-opacity="1"/>
<circle cx="251.44" cy="215.1" r="1.3" fill="#f48fb8" fill-opacity="1"/>
<circle cx="257.7" cy="217" r="1.3" fill="#f48fb8" fill-opacity="1"/>
<circle cx="263.97" cy="203.9" r="1.3" fill="#f48fb8" fill-opacity="1"/>
<circle cx="276.5" cy="194.8" r="1.3" fill="#f48fb8" fill-opacity="1"/>
<circle cx="289.03" cy="181.5" r="1.3" fill="#f48fb8" fill-opacity="1"/>
<circle cx="301.56" cy="180" r="1.3" fill="#f48fb8" fill-opacity="1"/>
<circle cx="314.09" cy="172.4" r="1.3" fill="#f48fb8" fill-opacity="1"/>
<circle cx="339.16" cy="163" r="1.3" fill="#f48fb8" fill-opacity="1"/>
<rect x="218.81" y="241.3" width="2.6" height="2.6" fill="#0a9ce0" fill-opacity="1"/>
<rect x="225.07" y="240.1" width="2.6" height="2.6" fill="#0a9ce0" fill-opacity="1"/>
<rect x="231.34" y="230.7" width="2.6" height="2.6" fill="#0a9ce0" fill-opacity="1"/>
<rect x="237.61" y="227.4" width="2.6" height="2.6" fill="#0a9ce0" fill-opacity="1"/>
<rect x="243.87" y="221.6" width="2.6" height="2.6" fill="#0a9ce0" fill-opacity="1"/>
<rect x="250.14" y="217.2" width="2.6" height="2.6" fill="#0a9ce0" fill-opacity="1"/>
<rect x="256.4" y="208.7" width="2.6" height="2.6" fill="#0a9ce0" fill-opacity="1"/>
<rect x="262.67" y="207.7" width="2.6" height="2.6" fill="#0a9ce0" fill-opacity="1"/>
<rect x="275.2" y="196.6" width="2.6" height="2.6" fill="#0a9ce0" fill-opacity="1"/>
<rect x="287.73" y="190.4" width="2.6" height="2.6" fill="#0a9ce0" fill-opacity="1"/>
<rect x="300.26" y="185.7" width="2.6" height="2.6" fill="#0a9ce0" fill-opacity="1"/>
<rect x="312.79" y="180.7" width="2.6" height="2.6" fill="#0a9ce0" fill-opacity="1"/>
<rect x="337.86" y="175.2" width="2.6" height="2.6" fill="#0a9ce0" fill-opacity="1"/>
</g>
<rect x="203.4" y="143.8" width="146.2" height="117.6" fill="none" stroke="#2b2b2b" stroke-width="1.2"/>
<line x1="200.8" y1="261.4" x2="203.4" y2="261.4" stroke="#2b2b2b" stroke-width="1"/>
<text x="199.8" y="265" text-anchor="end" style="font-family:'Liberation Serif',serif;font-weight:bold;font-size:7.5px" fill="#1a1a1a">0.0</text>
<line x1="200.8" y1="234.67" x2="203.4" y2="234.67" stroke="#2b2b2b" stroke-width="1"/>
<text x="199.8" y="238.27" text-anchor="end" style="font-family:'Liberation Serif',serif;font-weight:bold;font-size:7.5px" fill="#1a1a1a">0.5</text>
<line x1="200.8" y1="207.95" x2="203.4" y2="207.95" stroke="#2b2b2b" stroke-width="1"/>
<text x="199.8" y="211.55" text-anchor="end" style="font-family:'Liberation Serif',serif;font-weight:bold;font-size:7.5px" fill="#1a1a1a">1.0</text>
<line x1="200.8" y1="181.22" x2="203.4" y2="181.22" stroke="#2b2b2b" stroke-width="1"/>
<text x="199.8" y="184.82" text-anchor="end" style="font-family:'Liberation Serif',serif;font-weight:bold;font-size:7.5px" fill="#1a1a1a">1.5</text>
<line x1="200.8" y1="154.49" x2="203.4" y2="154.49" stroke="#2b2b2b" stroke-width="1"/>
<text x="199.8" y="158.09" text-anchor="end" style="font-family:'Liberation Serif',serif;font-weight:bold;font-size:7.5px" fill="#1a1a1a">2.0</text>
<line x1="213.84" y1="261.4" x2="213.84" y2="264" stroke="#2b2b2b" stroke-width="1"/>
<line x1="234.73" y1="261.4" x2="234.73" y2="264" stroke="#2b2b2b" stroke-width="1"/>
<line x1="255.61" y1="261.4" x2="255.61" y2="264" stroke="#2b2b2b" stroke-width="1"/>
<line x1="276.5" y1="261.4" x2="276.5" y2="264" stroke="#2b2b2b" stroke-width="1"/>
<line x1="297.39" y1="261.4" x2="297.39" y2="264" stroke="#2b2b2b" stroke-width="1"/>
<line x1="318.27" y1="261.4" x2="318.27" y2="264" stroke="#2b2b2b" stroke-width="1"/>
<line x1="339.16" y1="261.4" x2="339.16" y2="264" stroke="#2b2b2b" stroke-width="1"/>
<text x="203.1" y="141" style="font-family:'Liberation Serif',serif;font-weight:bold;font-size:7.8px" fill="#1a1a1a">(e)</text>
<text x="274.6" y="141.7" text-anchor="middle" style="font-family:'Liberation Serif',serif;font-weight:bold;font-style:italic;font-size:7.8px" fill="#1a1a1a">G. uralensis</text>
<clipPath id="c21"><rect x="373.1" y="143.8" width="146.3" height="117.6"/></clipPath>
<g clip-path="url(#c21)">
<line x1="419.08" y1="143.8" x2="419.08" y2="261.4" stroke="#1a1a1a" stroke-width="1.5" stroke-dasharray="1.5,5.35" stroke-dashoffset="-5.9"/>
<line x1="469.24" y1="143.8" x2="469.24" y2="261.4" stroke="#1a1a1a" stroke-width="1.5" stroke-dasharray="1.5,5.35" stroke-dashoffset="-5.9"/>
<path d="M389.8,240.85 L392.85,241.43 L395.91,241.46 L398.96,240.97 L402.02,240 L405.07,238.59 L408.12,236.77 L411.18,234.59 L414.23,232.07 L417.28,229.25 L420.34,226.18 L423.39,222.88 L426.45,219.39 L429.5,215.75 L432.55,211.99 L435.61,208.16 L438.66,204.29 L441.72,200.41 L444.77,196.56 L447.82,192.78 L450.88,189.09 L453.93,185.49 L456.98,182.01 L460.04,178.64 L463.09,175.4 L466.15,172.3 L469.2,169.34 L472.25,166.54 L475.31,163.91 L478.36,161.45 L481.42,159.17 L484.47,157.09 L487.52,155.21 L490.58,153.54 L493.63,152.1 L496.68,150.89 L499.74,149.91 L502.79,149.19 L505.85,148.73 L508.9,148.54 L508.9,175.2 L505.85,174.61 L502.79,174.42 L499.74,174.61 L496.68,175.15 L493.63,176.04 L490.58,177.24 L487.52,178.75 L484.47,180.54 L481.42,182.6 L478.36,184.91 L475.31,187.45 L472.25,190.2 L469.2,193.15 L466.15,196.28 L463.09,199.56 L460.04,202.99 L456.98,206.53 L453.93,210.16 L450.88,213.84 L447.82,217.51 L444.77,221.12 L441.72,224.64 L438.66,228.02 L435.61,231.25 L432.55,234.27 L429.5,237.08 L426.45,239.67 L423.39,242.04 L420.34,244.2 L417.28,246.14 L414.23,247.86 L411.18,249.37 L408.12,250.66 L405.07,251.73 L402.02,252.6 L398.96,253.24 L395.91,253.68 L392.85,253.9 L389.8,253.91 Z" fill="#4ec4ec" fill-opacity="0.21"/>
<path d="M389.8,248.39 L392.85,248.19 L395.91,247.73 L398.96,247 L402.02,246.02 L405.07,244.79 L408.12,243.31 L411.18,241.58 L414.23,239.62 L417.28,237.42 L420.34,235 L423.39,232.36 L426.45,229.49 L429.5,226.42 L432.55,223.15 L435.61,219.74 L438.66,216.21 L441.72,212.59 L444.77,208.93 L447.82,205.25 L450.88,201.6 L453.93,197.98 L456.98,194.42 L460.04,190.96 L463.09,187.6 L466.15,184.37 L469.2,181.3 L472.25,178.41 L475.31,175.72 L478.36,173.25 L481.42,171.04 L484.47,169.09 L487.52,167.42 L490.58,166.01 L493.63,164.82 L496.68,163.85 L499.74,163.06 L502.79,162.43 L505.85,161.94 L508.9,161.55" fill="none" stroke="#4ec4ec" stroke-width="1.1" stroke-opacity="1" stroke-linejoin="round" stroke-linecap="butt"/>
<path d="M389.82,248.39 L391.36,251.05 L388.28,251.05 Z" fill="#40bde8" fill-opacity="1"/>
<path d="M396.09,246.39 L397.63,249.05 L394.55,249.05 Z" fill="#40bde8" fill-opacity="1"/>
<path d="M402.36,243.39 L403.9,246.05 L400.82,246.05 Z" fill="#40bde8" fill-opacity="1"/>
<path d="M408.63,246.39 L410.17,249.05 L407.09,249.05 Z" fill="#40bde8" fill-opacity="1"/>
<path d="M414.9,242.39 L416.44,245.05 L413.36,245.05 Z" fill="#40bde8" fill-opacity="1"/>
<path d="M421.17,238.79 L422.71,241.45 L419.63,241.45 Z" fill="#40bde8" fill-opacity="1"/>
<path d="M427.44,229.29 L428.98,231.95 L425.9,231.95 Z" fill="#40bde8" fill-opacity="1"/>
<path d="M433.71,223.89 L435.25,226.55 L432.17,226.55 Z" fill="#40bde8" fill-opacity="1"/>
<path d="M446.25,209.29 L447.79,211.95 L444.71,211.95 Z" fill="#40bde8" fill-opacity="1"/>
<path d="M458.79,187.89 L460.33,190.55 L457.25,190.55 Z" fill="#40bde8" fill-opacity="1"/>
<path d="M471.33,174.99 L472.87,177.65 L469.79,177.65 Z" fill="#40bde8" fill-opacity="1"/>
<path d="M483.87,162.09 L485.41,164.75 L482.33,164.75 Z" fill="#40bde8" fill-opacity="1"/>
<path d="M508.95,144.09 L510.49,146.75 L507.41,146.75 Z" fill="#40bde8" fill-opacity="1"/>
</g>
<rect x="373.1" y="143.8" width="146.3" height="117.6" fill="none" stroke="#2b2b2b" stroke-width="1.2"/>
<line x1="370.5" y1="252.35" x2="373.1" y2="252.35" stroke="#2b2b2b" stroke-width="1"/>
<text x="369.5" y="255.95" text-anchor="end" style="font-family:'Liberation Serif',serif;font-weight:bold;font-size:7.5px" fill="#1a1a1a">0</text>
<line x1="370.5" y1="234.26" x2="373.1" y2="234.26" stroke="#2b2b2b" stroke-width="1"/>
<text x="369.5" y="237.86" text-anchor="end" style="font-family:'Liberation Serif',serif;font-weight:bold;font-size:7.5px" fill="#1a1a1a">1</text>
<line x1="370.5" y1="216.17" x2="373.1" y2="216.17" stroke="#2b2b2b" stroke-width="1"/>
<text x="369.5" y="219.77" text-anchor="end" style="font-family:'Liberation Serif',serif;font-weight:bold;font-size:7.5px" fill="#1a1a1a">2</text>
<line x1="370.5" y1="198.08" x2="373.1" y2="198.08" stroke="#2b2b2b" stroke-width="1"/>
<text x="369.5" y="201.68" text-anchor="end" style="font-family:'Liberation Serif',serif;font-weight:bold;font-size:7.5px" fill="#1a1a1a">3</text>
<line x1="370.5" y1="179.98" x2="373.1" y2="179.98" stroke="#2b2b2b" stroke-width="1"/>
<text x="369.5" y="183.58" text-anchor="end" style="font-family:'Liberation Serif',serif;font-weight:bold;font-size:7.5px" fill="#1a1a1a">4</text>
<line x1="370.5" y1="161.89" x2="373.1" y2="161.89" stroke="#2b2b2b" stroke-width="1"/>
<text x="369.5" y="165.49" text-anchor="end" style="font-family:'Liberation Serif',serif;font-weight:bold;font-size:7.5px" fill="#1a1a1a">5</text>
<line x1="370.5" y1="143.8" x2="373.1" y2="143.8" stroke="#2b2b2b" stroke-width="1"/>
<text x="369.5" y="147.4" text-anchor="end" style="font-family:'Liberation Serif',serif;font-weight:bold;font-size:7.5px" fill="#1a1a1a">6</text>
<line x1="383.55" y1="261.4" x2="383.55" y2="264" stroke="#2b2b2b" stroke-width="1"/>
<line x1="404.45" y1="261.4" x2="404.45" y2="264" stroke="#2b2b2b" stroke-width="1"/>
<line x1="425.35" y1="261.4" x2="425.35" y2="264" stroke="#2b2b2b" stroke-width="1"/>
<line x1="446.25" y1="261.4" x2="446.25" y2="264" stroke="#2b2b2b" stroke-width="1"/>
<line x1="467.15" y1="261.4" x2="467.15" y2="264" stroke="#2b2b2b" stroke-width="1"/>
<line x1="488.05" y1="261.4" x2="488.05" y2="264" stroke="#2b2b2b" stroke-width="1"/>
<line x1="508.95" y1="261.4" x2="508.95" y2="264" stroke="#2b2b2b" stroke-width="1"/>
<text x="372.8" y="141" style="font-family:'Liberation Serif',serif;font-weight:bold;font-size:7.8px" fill="#1a1a1a">(f)</text>
<text x="442.7" y="141.7" text-anchor="middle" style="font-family:'Liberation Serif',serif;font-weight:bold;font-style:italic;font-size:7.8px" fill="#1a1a1a">A. sparsifolia</text>
<text x="386.2" y="254" style="font-family:'Liberation Serif',serif;font-weight:bold;font-size:10px" fill="#1a1a1a">slow</text>
<text x="435.9" y="254" style="font-family:'Liberation Serif',serif;font-weight:bold;font-size:10px" fill="#1a1a1a">fast</text>
<text x="473.3" y="254" style="font-family:'Liberation Serif',serif;font-weight:bold;font-size:10px" fill="#1a1a1a">saturation</text>
<clipPath id="c02"><rect x="33.2" y="277.3" width="146.3" height="117.2"/></clipPath>
<g clip-path="url(#c02)">
<path d="M49.92,351 L56.19,330.6 L62.46,315.6 L68.73,312.4 L75,310.9 L81.27,311.3 L87.54,312.7 L93.81,306 L106.35,294 L118.89,292 L131.43,303.8 L143.97,311.3 L169.05,322" fill="none" stroke="#4ec4ec" stroke-width="3.6" stroke-opacity="0.35" stroke-linejoin="round" stroke-linecap="round"/>
<path d="M49.92,349.16 L51.68,352.2 L48.16,352.2 Z" fill="#40bde8" fill-opacity="0.75"/>
<path d="M56.19,328.76 L57.95,331.8 L54.43,331.8 Z" fill="#40bde8" fill-opacity="0.75"/>
<path d="M62.46,313.76 L64.22,316.8 L60.7,316.8 Z" fill="#40bde8" fill-opacity="0.75"/>
<path d="M68.73,310.56 L70.49,313.6 L66.97,313.6 Z" fill="#40bde8" fill-opacity="0.75"/>
<path d="M75,309.06 L76.76,312.1 L73.24,312.1 Z" fill="#40bde8" fill-opacity="0.75"/>
<path d="M81.27,309.46 L83.03,312.5 L79.51,312.5 Z" fill="#40bde8" fill-opacity="0.75"/>
<path d="M87.54,307.36 L89.3,310.4 L85.78,310.4 Z" fill="#40bde8" fill-opacity="0.75"/>
<path d="M93.81,308.36 L95.57,311.4 L92.05,311.4 Z" fill="#40bde8" fill-opacity="0.75"/>
<path d="M106.35,288.16 L108.11,291.2 L104.59,291.2 Z" fill="#40bde8" fill-opacity="0.75"/>
<path d="M118.89,292.56 L120.65,295.6 L117.13,295.6 Z" fill="#40bde8" fill-opacity="0.75"/>
<path d="M131.43,301.96 L133.19,305 L129.67,305 Z" fill="#40bde8" fill-opacity="0.75"/>
<path d="M143.97,309.46 L145.73,312.5 L142.21,312.5 Z" fill="#40bde8" fill-opacity="0.75"/>
<path d="M169.05,320.16 L170.81,323.2 L167.29,323.2 Z" fill="#40bde8" fill-opacity="0.75"/>
<path d="M49.92,339.6 L56.19,362.8 L62.46,361.1 L68.73,369.7 L75,366 L81.27,365 L87.54,365.4 L93.81,367.5 L106.35,368.8 L118.89,369.7 L131.43,368.8 L143.97,369.2 L169.05,373.1" fill="none" stroke="#f07aa5" stroke-width="3.6" stroke-opacity="0.35" stroke-linejoin="round" stroke-linecap="round"/>
<circle cx="49.92" cy="339.6" r="1.3" fill="#f48fb8" fill-opacity="0.8"/>
<circle cx="56.19" cy="362.8" r="1.3" fill="#f48fb8" fill-opacity="0.8"/>
<circle cx="62.46" cy="361.1" r="1.3" fill="#f48fb8" fill-opacity="0.8"/>
<circle cx="68.73" cy="369.7" r="1.3" fill="#f48fb8" fill-opacity="0.8"/>
<circle cx="75" cy="366" r="1.3" fill="#f48fb8" fill-opacity="0.8"/>
<circle cx="81.27" cy="365" r="1.3" fill="#f48fb8" fill-opacity="0.8"/>
<circle cx="87.54" cy="365.4" r="1.3" fill="#f48fb8" fill-opacity="0.8"/>
<circle cx="93.81" cy="367.5" r="1.3" fill="#f48fb8" fill-opacity="0.8"/>
<circle cx="106.35" cy="368.8" r="1.3" fill="#f48fb8" fill-opacity="0.8"/>
<circle cx="118.89" cy="369.7" r="1.3" fill="#f48fb8" fill-opacity="0.8"/>
<circle cx="131.43" cy="368.8" r="1.3" fill="#f48fb8" fill-opacity="0.8"/>
<circle cx="143.97" cy="369.2" r="1.3" fill="#f48fb8" fill-opacity="0.8"/>
<circle cx="169.05" cy="373.1" r="1.3" fill="#f48fb8" fill-opacity="0.8"/>
<path d="M49.92,326.3 L56.19,317.3 L62.46,316.7 L68.73,329.1 L75,333.2 L81.27,339.2 L87.54,340.5 L93.81,343.5 L106.35,343.5 L118.89,341.3 L131.43,342.4 L143.97,343.9 L169.05,346.7" fill="none" stroke="#22bdea" stroke-width="3.8" stroke-opacity="0.85" stroke-linejoin="round" stroke-linecap="round"/>
<rect x="48.62" y="325" width="2.6" height="2.6" fill="#0a9ce0" fill-opacity="1"/>
<rect x="54.89" y="316" width="2.6" height="2.6" fill="#0a9ce0" fill-opacity="1"/>
<rect x="61.16" y="315.4" width="2.6" height="2.6" fill="#0a9ce0" fill-opacity="1"/>
<rect x="67.43" y="327.8" width="2.6" height="2.6" fill="#0a9ce0" fill-opacity="1"/>
<rect x="73.7" y="331.9" width="2.6" height="2.6" fill="#0a9ce0" fill-opacity="1"/>
<rect x="79.97" y="337.9" width="2.6" height="2.6" fill="#0a9ce0" fill-opacity="1"/>
<rect x="86.24" y="339.2" width="2.6" height="2.6" fill="#0a9ce0" fill-opacity="1"/>
<rect x="92.51" y="342.2" width="2.6" height="2.6" fill="#0a9ce0" fill-opacity="1"/>
<rect x="105.05" y="342.2" width="2.6" height="2.6" fill="#0a9ce0" fill-opacity="1"/>
<rect x="117.59" y="340" width="2.6" height="2.6" fill="#0a9ce0" fill-opacity="1"/>
<rect x="130.13" y="341.1" width="2.6" height="2.6" fill="#0a9ce0" fill-opacity="1"/>
<rect x="142.67" y="342.6" width="2.6" height="2.6" fill="#0a9ce0" fill-opacity="1"/>
<rect x="167.75" y="345.4" width="2.6" height="2.6" fill="#0a9ce0" fill-opacity="1"/>
</g>
<rect x="33.2" y="277.3" width="146.3" height="117.2" fill="none" stroke="#2b2b2b" stroke-width="1.2"/>
<line x1="30.6" y1="385.48" x2="33.2" y2="385.48" stroke="#2b2b2b" stroke-width="1"/>
<text x="29.6" y="389.08" text-anchor="end" style="font-family:'Liberation Serif',serif;font-weight:bold;font-size:7.5px" fill="#1a1a1a">0.003</text>
<line x1="30.6" y1="358.44" x2="33.2" y2="358.44" stroke="#2b2b2b" stroke-width="1"/>
<text x="29.6" y="362.04" text-anchor="end" style="font-family:'Liberation Serif',serif;font-weight:bold;font-size:7.5px" fill="#1a1a1a">0.006</text>
<line x1="30.6" y1="331.39" x2="33.2" y2="331.39" stroke="#2b2b2b" stroke-width="1"/>
<text x="29.6" y="334.99" text-anchor="end" style="font-family:'Liberation Serif',serif;font-weight:bold;font-size:7.5px" fill="#1a1a1a">0.009</text>
<line x1="30.6" y1="304.35" x2="33.2" y2="304.35" stroke="#2b2b2b" stroke-width="1"/>
<text x="29.6" y="307.95" text-anchor="end" style="font-family:'Liberation Serif',serif;font-weight:bold;font-size:7.5px" fill="#1a1a1a">0.012</text>
<line x1="30.6" y1="277.3" x2="33.2" y2="277.3" stroke="#2b2b2b" stroke-width="1"/>
<text x="29.6" y="280.9" text-anchor="end" style="font-family:'Liberation Serif',serif;font-weight:bold;font-size:7.5px" fill="#1a1a1a">0.015</text>
<line x1="43.65" y1="394.5" x2="43.65" y2="397.1" stroke="#2b2b2b" stroke-width="1"/>
<line x1="64.55" y1="394.5" x2="64.55" y2="397.1" stroke="#2b2b2b" stroke-width="1"/>
<line x1="85.45" y1="394.5" x2="85.45" y2="397.1" stroke="#2b2b2b" stroke-width="1"/>
<line x1="106.35" y1="394.5" x2="106.35" y2="397.1" stroke="#2b2b2b" stroke-width="1"/>
<line x1="127.25" y1="394.5" x2="127.25" y2="397.1" stroke="#2b2b2b" stroke-width="1"/>
<line x1="148.15" y1="394.5" x2="148.15" y2="397.1" stroke="#2b2b2b" stroke-width="1"/>
<line x1="169.05" y1="394.5" x2="169.05" y2="397.1" stroke="#2b2b2b" stroke-width="1"/>
<text x="32.9" y="274.5" style="font-family:'Liberation Serif',serif;font-weight:bold;font-size:7.8px" fill="#1a1a1a">(g)</text>
<text x="102.7" y="275.2" text-anchor="middle" style="font-family:'Liberation Serif',serif;font-weight:bold;font-style:italic;font-size:7.8px" fill="#1a1a1a">P. euphratica</text>
<clipPath id="c12"><rect x="203.4" y="277.3" width="146.2" height="117.2"/></clipPath>
<g clip-path="url(#c12)">
<path d="M220.11,367.1 L226.37,375.7 L232.64,374.6 L238.91,373.5 L245.17,371.4 L251.44,374.6 L257.7,360.7 L263.97,348.9 L276.5,339.2 L289.03,331.7 L301.56,315.2 L314.09,315.6 L339.16,316" fill="none" stroke="#4ec4ec" stroke-width="3.8" stroke-opacity="0.35" stroke-linejoin="round" stroke-linecap="round"/>
<path d="M220.11,365.66 L221.87,368.7 L218.35,368.7 Z" fill="#40bde8" fill-opacity="0.75"/>
<path d="M226.37,374.26 L228.13,377.3 L224.61,377.3 Z" fill="#40bde8" fill-opacity="0.75"/>
<path d="M232.64,374.26 L234.4,377.3 L230.88,377.3 Z" fill="#40bde8" fill-opacity="0.75"/>
<path d="M238.91,372.16 L240.67,375.2 L237.15,375.2 Z" fill="#40bde8" fill-opacity="0.75"/>
<path d="M245.17,369.56 L246.93,372.6 L243.41,372.6 Z" fill="#40bde8" fill-opacity="0.75"/>
<path d="M251.44,367.86 L253.2,370.9 L249.68,370.9 Z" fill="#40bde8" fill-opacity="0.75"/>
<path d="M257.7,370.66 L259.46,373.7 L255.94,373.7 Z" fill="#40bde8" fill-opacity="0.75"/>
<path d="M263.97,339.06 L265.73,342.1 L262.21,342.1 Z" fill="#40bde8" fill-opacity="0.75"/>
<path d="M276.5,339.46 L278.26,342.5 L274.74,342.5 Z" fill="#40bde8" fill-opacity="0.75"/>
<path d="M289.03,330.96 L290.79,334 L287.27,334 Z" fill="#40bde8" fill-opacity="0.75"/>
<path d="M301.56,312.66 L303.32,315.7 L299.8,315.7 Z" fill="#40bde8" fill-opacity="0.75"/>
<path d="M314.09,313.76 L315.85,316.8 L312.33,316.8 Z" fill="#40bde8" fill-opacity="0.75"/>
<path d="M339.16,314.16 L340.92,317.2 L337.4,317.2 Z" fill="#40bde8" fill-opacity="0.75"/>
<path d="M220.11,376.7 L226.37,372.5 L232.64,362.8 L238.91,347.8 L245.17,337.1 L251.44,333.8 L257.7,328.5 L263.97,317.8 L276.5,315.2 L289.03,316.7 L301.56,308.1 L314.09,302.3 L339.16,311.3" fill="none" stroke="#f07aa5" stroke-width="3.8" stroke-opacity="0.35" stroke-linejoin="round" stroke-linecap="round"/>
<circle cx="220.11" cy="376.7" r="1.3" fill="#f48fb8" fill-opacity="0.8"/>
<circle cx="226.37" cy="373.1" r="1.3" fill="#f48fb8" fill-opacity="0.8"/>
<circle cx="232.64" cy="358.5" r="1.3" fill="#f48fb8" fill-opacity="0.8"/>
<circle cx="238.91" cy="347.8" r="1.3" fill="#f48fb8" fill-opacity="0.8"/>
<circle cx="245.17" cy="332.3" r="1.3" fill="#f48fb8" fill-opacity="0.8"/>
<circle cx="251.44" cy="335.3" r="1.3" fill="#f48fb8" fill-opacity="0.8"/>
<circle cx="257.7" cy="330.2" r="1.3" fill="#f48fb8" fill-opacity="0.8"/>
<circle cx="263.97" cy="311.7" r="1.3" fill="#f48fb8" fill-opacity="0.8"/>
<circle cx="276.5" cy="321" r="1.3" fill="#f48fb8" fill-opacity="0.8"/>
<circle cx="289.03" cy="313" r="1.3" fill="#f48fb8" fill-opacity="0.8"/>
<circle cx="301.56" cy="310.9" r="1.3" fill="#f48fb8" fill-opacity="0.8"/>
<circle cx="314.09" cy="301.7" r="1.3" fill="#f48fb8" fill-opacity="0.8"/>
<circle cx="339.16" cy="311.7" r="1.3" fill="#f48fb8" fill-opacity="0.8"/>
<path d="M220.11,360.7 L226.37,368.2 L232.64,365 L238.91,357.4 L245.17,352.1 L251.44,353.1 L257.7,353.8 L263.97,352.5 L276.5,352.3 L289.03,352.5 L301.56,352.3 L314.09,352.5 L339.16,352.5" fill="none" stroke="#22bdea" stroke-width="5.0" stroke-opacity="0.85" stroke-linejoin="round" stroke-linecap="round"/>
<rect x="218.81" y="360.2" width="2.6" height="2.6" fill="#0a9ce0" fill-opacity="1"/>
<rect x="225.07" y="367.5" width="2.6" height="2.6" fill="#0a9ce0" fill-opacity="1"/>
<rect x="231.34" y="363.7" width="2.6" height="2.6" fill="#0a9ce0" fill-opacity="1"/>
<rect x="237.61" y="355.5" width="2.6" height="2.6" fill="#0a9ce0" fill-opacity="1"/>
<rect x="243.87" y="350.3" width="2.6" height="2.6" fill="#0a9ce0" fill-opacity="1"/>
<rect x="250.14" y="352.9" width="2.6" height="2.6" fill="#0a9ce0" fill-opacity="1"/>
<rect x="256.4" y="353.3" width="2.6" height="2.6" fill="#0a9ce0" fill-opacity="1"/>
<rect x="262.67" y="351.9" width="2.6" height="2.6" fill="#0a9ce0" fill-opacity="1"/>
<rect x="275.2" y="351.2" width="2.6" height="2.6" fill="#0a9ce0" fill-opacity="1"/>
<rect x="287.73" y="351.9" width="2.6" height="2.6" fill="#0a9ce0" fill-opacity="1"/>
<rect x="300.26" y="350.7" width="2.6" height="2.6" fill="#0a9ce0" fill-opacity="1"/>
<rect x="312.79" y="351.4" width="2.6" height="2.6" fill="#0a9ce0" fill-opacity="1"/>
<rect x="337.86" y="351.2" width="2.6" height="2.6" fill="#0a9ce0" fill-opacity="1"/>
</g>
<rect x="203.4" y="277.3" width="146.2" height="117.2" fill="none" stroke="#2b2b2b" stroke-width="1.2"/>
<line x1="200.8" y1="377.76" x2="203.4" y2="377.76" stroke="#2b2b2b" stroke-width="1"/>
<text x="199.8" y="381.36" text-anchor="end" style="font-family:'Liberation Serif',serif;font-weight:bold;font-size:7.5px" fill="#1a1a1a">0.02</text>
<line x1="200.8" y1="344.27" x2="203.4" y2="344.27" stroke="#2b2b2b" stroke-width="1"/>
<text x="199.8" y="347.87" text-anchor="end" style="font-family:'Liberation Serif',serif;font-weight:bold;font-size:7.5px" fill="#1a1a1a">0.04</text>
<line x1="200.8" y1="310.79" x2="203.4" y2="310.79" stroke="#2b2b2b" stroke-width="1"/>
<text x="199.8" y="314.39" text-anchor="end" style="font-family:'Liberation Serif',serif;font-weight:bold;font-size:7.5px" fill="#1a1a1a">0.06</text>
<line x1="200.8" y1="277.3" x2="203.4" y2="277.3" stroke="#2b2b2b" stroke-width="1"/>
<text x="199.8" y="280.9" text-anchor="end" style="font-family:'Liberation Serif',serif;font-weight:bold;font-size:7.5px" fill="#1a1a1a">0.08</text>
<line x1="213.84" y1="394.5" x2="213.84" y2="397.1" stroke="#2b2b2b" stroke-width="1"/>
<line x1="234.73" y1="394.5" x2="234.73" y2="397.1" stroke="#2b2b2b" stroke-width="1"/>
<line x1="255.61" y1="394.5" x2="255.61" y2="397.1" stroke="#2b2b2b" stroke-width="1"/>
<line x1="276.5" y1="394.5" x2="276.5" y2="397.1" stroke="#2b2b2b" stroke-width="1"/>
<line x1="297.39" y1="394.5" x2="297.39" y2="397.1" stroke="#2b2b2b" stroke-width="1"/>
<line x1="318.27" y1="394.5" x2="318.27" y2="397.1" stroke="#2b2b2b" stroke-width="1"/>
<line x1="339.16" y1="394.5" x2="339.16" y2="397.1" stroke="#2b2b2b" stroke-width="1"/>
<text x="203.1" y="274.5" style="font-family:'Liberation Serif',serif;font-weight:bold;font-size:7.8px" fill="#1a1a1a">(h)</text>
<text x="273.2" y="275.2" text-anchor="middle" style="font-family:'Liberation Serif',serif;font-weight:bold;font-style:italic;font-size:7.8px" fill="#1a1a1a">N. sibirica</text>
<clipPath id="c22"><rect x="373.1" y="277.3" width="146.3" height="117.2"/></clipPath>
<g clip-path="url(#c22)">
<path d="M389.82,334.5 L396.09,338.1 L402.36,342.4 L408.63,353.1 L414.9,355.3 L421.17,345.6 L427.44,330.6 L433.71,323.1 L446.25,315.2 L458.79,300.2 L471.33,295.2 L483.87,295.2 L508.95,298" fill="none" stroke="#4ec4ec" stroke-width="3.8" stroke-opacity="0.35" stroke-linejoin="round" stroke-linecap="round"/>
<path d="M389.82,331.36 L391.58,334.4 L388.06,334.4 Z" fill="#40bde8" fill-opacity="0.75"/>
<path d="M396.09,337.16 L397.85,340.2 L394.33,340.2 Z" fill="#40bde8" fill-opacity="0.75"/>
<path d="M402.36,339.56 L404.12,342.6 L400.6,342.6 Z" fill="#40bde8" fill-opacity="0.75"/>
<path d="M408.63,352.76 L410.39,355.8 L406.87,355.8 Z" fill="#40bde8" fill-opacity="0.75"/>
<path d="M414.9,354.06 L416.66,357.1 L413.14,357.1 Z" fill="#40bde8" fill-opacity="0.75"/>
<path d="M421.17,345.56 L422.93,348.6 L419.41,348.6 Z" fill="#40bde8" fill-opacity="0.75"/>
<path d="M427.44,327.76 L429.2,330.8 L425.68,330.8 Z" fill="#40bde8" fill-opacity="0.75"/>
<path d="M433.71,325.56 L435.47,328.6 L431.95,328.6 Z" fill="#40bde8" fill-opacity="0.75"/>
<path d="M446.25,313.36 L448.01,316.4 L444.49,316.4 Z" fill="#40bde8" fill-opacity="0.75"/>
<path d="M458.79,297.66 L460.55,300.7 L457.03,300.7 Z" fill="#40bde8" fill-opacity="0.75"/>
<path d="M471.33,294.86 L473.09,297.9 L469.57,297.9 Z" fill="#40bde8" fill-opacity="0.75"/>
<path d="M483.87,293.36 L485.63,296.4 L482.11,296.4 Z" fill="#40bde8" fill-opacity="0.75"/>
<path d="M508.95,296.16 L510.71,299.2 L507.19,299.2 Z" fill="#40bde8" fill-opacity="0.75"/>
<path d="M389.82,388.5 L396.09,373.1 L402.36,376.7 L408.63,371.4 L414.9,368.2 L421.17,365 L427.44,362.4 L433.71,358.1 L446.25,342.4 L458.79,332.3 L471.33,328.5 L483.87,326.3 L508.95,324.6" fill="none" stroke="#f07aa5" stroke-width="3.8" stroke-opacity="0.35" stroke-linejoin="round" stroke-linecap="round"/>
<circle cx="389.82" cy="388" r="1.3" fill="#f48fb8" fill-opacity="0.8"/>
<circle cx="396.09" cy="372.5" r="1.3" fill="#f48fb8" fill-opacity="0.8"/>
<circle cx="402.36" cy="376.7" r="1.3" fill="#f48fb8" fill-opacity="0.8"/>
<circle cx="408.63" cy="371" r="1.3" fill="#f48fb8" fill-opacity="0.8"/>
<circle cx="414.9" cy="368.8" r="1.3" fill="#f48fb8" fill-opacity="0.8"/>
<circle cx="421.17" cy="365.4" r="1.3" fill="#f48fb8" fill-opacity="0.8"/>
<circle cx="427.44" cy="363.9" r="1.3" fill="#f48fb8" fill-opacity="0.8"/>
<circle cx="433.71" cy="358.1" r="1.3" fill="#f48fb8" fill-opacity="0.8"/>
<circle cx="446.25" cy="342.4" r="1.3" fill="#f48fb8" fill-opacity="0.8"/>
<circle cx="458.79" cy="332.3" r="1.3" fill="#f48fb8" fill-opacity="0.8"/>
<circle cx="471.33" cy="328.5" r="1.3" fill="#f48fb8" fill-opacity="0.8"/>
<circle cx="483.87" cy="326.3" r="1.3" fill="#f48fb8" fill-opacity="0.8"/>
<circle cx="508.95" cy="324.6" r="1.3" fill="#f48fb8" fill-opacity="0.8"/>
<path d="M389.82,358.5 L396.09,362.4 L402.36,367.5 L408.63,366 L414.9,364.9 L421.17,365.4 L427.44,364.9 L433.71,364.9 L446.25,363.9 L458.79,361.1 L471.33,358.9 L483.87,358.9 L508.95,357" fill="none" stroke="#22bdea" stroke-width="4.2" stroke-opacity="0.85" stroke-linejoin="round" stroke-linecap="round"/>
<rect x="388.52" y="357.2" width="2.6" height="2.6" fill="#0a9ce0" fill-opacity="1"/>
<rect x="394.79" y="361.1" width="2.6" height="2.6" fill="#0a9ce0" fill-opacity="1"/>
<rect x="401.06" y="366.2" width="2.6" height="2.6" fill="#0a9ce0" fill-opacity="1"/>
<rect x="407.33" y="364.7" width="2.6" height="2.6" fill="#0a9ce0" fill-opacity="1"/>
<rect x="413.6" y="363.6" width="2.6" height="2.6" fill="#0a9ce0" fill-opacity="1"/>
<rect x="419.87" y="364.1" width="2.6" height="2.6" fill="#0a9ce0" fill-opacity="1"/>
<rect x="426.14" y="363.6" width="2.6" height="2.6" fill="#0a9ce0" fill-opacity="1"/>
<rect x="432.41" y="363.6" width="2.6" height="2.6" fill="#0a9ce0" fill-opacity="1"/>
<rect x="444.95" y="362.6" width="2.6" height="2.6" fill="#0a9ce0" fill-opacity="1"/>
<rect x="457.49" y="359.8" width="2.6" height="2.6" fill="#0a9ce0" fill-opacity="1"/>
<rect x="470.03" y="357.6" width="2.6" height="2.6" fill="#0a9ce0" fill-opacity="1"/>
<rect x="482.57" y="357.6" width="2.6" height="2.6" fill="#0a9ce0" fill-opacity="1"/>
<rect x="507.65" y="355.7" width="2.6" height="2.6" fill="#0a9ce0" fill-opacity="1"/>
</g>
<rect x="373.1" y="277.3" width="146.3" height="117.2" fill="none" stroke="#2b2b2b" stroke-width="1.2"/>
<line x1="370.5" y1="374.97" x2="373.1" y2="374.97" stroke="#2b2b2b" stroke-width="1"/>
<text x="369.5" y="378.57" text-anchor="end" style="font-family:'Liberation Serif',serif;font-weight:bold;font-size:7.5px" fill="#1a1a1a">0.00</text>
<line x1="370.5" y1="335.9" x2="373.1" y2="335.9" stroke="#2b2b2b" stroke-width="1"/>
<text x="369.5" y="339.5" text-anchor="end" style="font-family:'Liberation Serif',serif;font-weight:bold;font-size:7.5px" fill="#1a1a1a">0.01</text>
<line x1="370.5" y1="296.83" x2="373.1" y2="296.83" stroke="#2b2b2b" stroke-width="1"/>
<text x="369.5" y="300.43" text-anchor="end" style="font-family:'Liberation Serif',serif;font-weight:bold;font-size:7.5px" fill="#1a1a1a">0.02</text>
<line x1="383.55" y1="394.5" x2="383.55" y2="397.1" stroke="#2b2b2b" stroke-width="1"/>
<line x1="404.45" y1="394.5" x2="404.45" y2="397.1" stroke="#2b2b2b" stroke-width="1"/>
<line x1="425.35" y1="394.5" x2="425.35" y2="397.1" stroke="#2b2b2b" stroke-width="1"/>
<line x1="446.25" y1="394.5" x2="446.25" y2="397.1" stroke="#2b2b2b" stroke-width="1"/>
<line x1="467.15" y1="394.5" x2="467.15" y2="397.1" stroke="#2b2b2b" stroke-width="1"/>
<line x1="488.05" y1="394.5" x2="488.05" y2="397.1" stroke="#2b2b2b" stroke-width="1"/>
<line x1="508.95" y1="394.5" x2="508.95" y2="397.1" stroke="#2b2b2b" stroke-width="1"/>
<text x="372.8" y="274.5" style="font-family:'Liberation Serif',serif;font-weight:bold;font-size:7.8px" fill="#1a1a1a">(i)</text>
<text x="439.6" y="275.2" text-anchor="middle" style="font-family:'Liberation Serif',serif;font-weight:bold;font-style:italic;font-size:7.8px" fill="#1a1a1a">A. sparsifolia</text>
<clipPath id="c03"><rect x="33.2" y="409.8" width="146.3" height="116.6"/></clipPath>
<g clip-path="url(#c03)">
<path d="M49.92,501.5 L56.19,505.7 L62.46,503.6 L68.73,501.9 L75,498.9 L81.27,495.1 L87.54,493 L93.81,491.9 L106.35,487.7 L118.89,484.9 L131.43,483.6 L143.97,483.4 L169.05,483.4" fill="none" stroke="#4ec4ec" stroke-width="3.8" stroke-opacity="0.35" stroke-linejoin="round" stroke-linecap="round"/>
<path d="M49.92,499.66 L51.68,502.7 L48.16,502.7 Z" fill="#40bde8" fill-opacity="0.75"/>
<path d="M56.19,503.86 L57.95,506.9 L54.43,506.9 Z" fill="#40bde8" fill-opacity="0.75"/>
<path d="M62.46,501.76 L64.22,504.8 L60.7,504.8 Z" fill="#40bde8" fill-opacity="0.75"/>
<path d="M68.73,500.06 L70.49,503.1 L66.97,503.1 Z" fill="#40bde8" fill-opacity="0.75"/>
<path d="M75,497.06 L76.76,500.1 L73.24,500.1 Z" fill="#40bde8" fill-opacity="0.75"/>
<path d="M81.27,493.26 L83.03,496.3 L79.51,496.3 Z" fill="#40bde8" fill-opacity="0.75"/>
<path d="M87.54,491.16 L89.3,494.2 L85.78,494.2 Z" fill="#40bde8" fill-opacity="0.75"/>
<path d="M93.81,490.06 L95.57,493.1 L92.05,493.1 Z" fill="#40bde8" fill-opacity="0.75"/>
<path d="M106.35,485.86 L108.11,488.9 L104.59,488.9 Z" fill="#40bde8" fill-opacity="0.75"/>
<path d="M118.89,483.06 L120.65,486.1 L117.13,486.1 Z" fill="#40bde8" fill-opacity="0.75"/>
<path d="M131.43,481.76 L133.19,484.8 L129.67,484.8 Z" fill="#40bde8" fill-opacity="0.75"/>
<path d="M143.97,481.56 L145.73,484.6 L142.21,484.6 Z" fill="#40bde8" fill-opacity="0.75"/>
<path d="M169.05,481.56 L170.81,484.6 L167.29,484.6 Z" fill="#40bde8" fill-opacity="0.75"/>
<path d="M49.92,482.3 L56.19,502.5 L62.46,498.3 L68.73,496.2 L75,496.2 L81.27,494 L87.54,489.8 L93.81,483.4 L106.35,472.8 L118.89,448.3 L131.43,432.3 L143.97,427.7 L169.05,428.7" fill="none" stroke="#f07aa5" stroke-width="3.8" stroke-opacity="0.35" stroke-linejoin="round" stroke-linecap="round"/>
<circle cx="49.92" cy="482.3" r="1.3" fill="#f48fb8" fill-opacity="0.8"/>
<circle cx="56.19" cy="501.5" r="1.3" fill="#f48fb8" fill-opacity="0.8"/>
<circle cx="62.46" cy="498.3" r="1.3" fill="#f48fb8" fill-opacity="0.8"/>
<circle cx="68.73" cy="497" r="1.3" fill="#f48fb8" fill-opacity="0.8"/>
<circle cx="75" cy="496.2" r="1.3" fill="#f48fb8" fill-opacity="0.8"/>
<circle cx="81.27" cy="494" r="1.3" fill="#f48fb8" fill-opacity="0.8"/>
<circle cx="87.54" cy="491" r="1.3" fill="#f48fb8" fill-opacity="0.8"/>
<circle cx="93.81" cy="484" r="1.3" fill="#f48fb8" fill-opacity="0.8"/>
<circle cx="106.35" cy="473.4" r="1.3" fill="#f48fb8" fill-opacity="0.8"/>
<circle cx="118.89" cy="446.2" r="1.3" fill="#f48fb8" fill-opacity="0.8"/>
<circle cx="131.43" cy="435.1" r="1.3" fill="#f48fb8" fill-opacity="0.8"/>
<circle cx="143.97" cy="427" r="1.3" fill="#f48fb8" fill-opacity="0.8"/>
<circle cx="169.05" cy="428.7" r="1.3" fill="#f48fb8" fill-opacity="0.8"/>
<path d="M49.92,440.8 L56.19,456.8 L62.46,462.1 L68.73,467 L75,469.6 L81.27,472.8 L87.54,474.9 L93.81,477 L106.35,479.5 L118.89,481.3 L131.43,482.8 L143.97,483.4 L169.05,483.4" fill="none" stroke="#22bdea" stroke-width="4.2" stroke-opacity="0.85" stroke-linejoin="round" stroke-linecap="round"/>
<rect x="48.62" y="439.5" width="2.6" height="2.6" fill="#0a9ce0" fill-opacity="1"/>
<rect x="54.89" y="455.9" width="2.6" height="2.6" fill="#0a9ce0" fill-opacity="1"/>
<rect x="61.16" y="459.7" width="2.6" height="2.6" fill="#0a9ce0" fill-opacity="1"/>
<rect x="67.43" y="470.4" width="2.6" height="2.6" fill="#0a9ce0" fill-opacity="1"/>
<rect x="73.7" y="467.8" width="2.6" height="2.6" fill="#0a9ce0" fill-opacity="1"/>
<rect x="79.97" y="472.1" width="2.6" height="2.6" fill="#0a9ce0" fill-opacity="1"/>
<rect x="86.24" y="473.6" width="2.6" height="2.6" fill="#0a9ce0" fill-opacity="1"/>
<rect x="92.51" y="475.7" width="2.6" height="2.6" fill="#0a9ce0" fill-opacity="1"/>
<rect x="105.05" y="478.2" width="2.6" height="2.6" fill="#0a9ce0" fill-opacity="1"/>
<rect x="117.59" y="480" width="2.6" height="2.6" fill="#0a9ce0" fill-opacity="1"/>
<rect x="130.13" y="481.5" width="2.6" height="2.6" fill="#0a9ce0" fill-opacity="1"/>
<rect x="142.67" y="482.1" width="2.6" height="2.6" fill="#0a9ce0" fill-opacity="1"/>
<rect x="167.75" y="482.1" width="2.6" height="2.6" fill="#0a9ce0" fill-opacity="1"/>
</g>
<rect x="33.2" y="409.8" width="146.3" height="116.6" fill="none" stroke="#2b2b2b" stroke-width="1.2"/>
<line x1="30.6" y1="526.4" x2="33.2" y2="526.4" stroke="#2b2b2b" stroke-width="1"/>
<text x="29.6" y="530" text-anchor="end" style="font-family:'Liberation Serif',serif;font-weight:bold;font-size:7.5px" fill="#1a1a1a">0.000</text>
<line x1="30.6" y1="497.25" x2="33.2" y2="497.25" stroke="#2b2b2b" stroke-width="1"/>
<text x="29.6" y="500.85" text-anchor="end" style="font-family:'Liberation Serif',serif;font-weight:bold;font-size:7.5px" fill="#1a1a1a">0.005</text>
<line x1="30.6" y1="468.1" x2="33.2" y2="468.1" stroke="#2b2b2b" stroke-width="1"/>
<text x="29.6" y="471.7" text-anchor="end" style="font-family:'Liberation Serif',serif;font-weight:bold;font-size:7.5px" fill="#1a1a1a">0.010</text>
<line x1="30.6" y1="438.95" x2="33.2" y2="438.95" stroke="#2b2b2b" stroke-width="1"/>
<text x="29.6" y="442.55" text-anchor="end" style="font-family:'Liberation Serif',serif;font-weight:bold;font-size:7.5px" fill="#1a1a1a">0.015</text>
<line x1="30.6" y1="409.8" x2="33.2" y2="409.8" stroke="#2b2b2b" stroke-width="1"/>
<text x="29.6" y="413.4" text-anchor="end" style="font-family:'Liberation Serif',serif;font-weight:bold;font-size:7.5px" fill="#1a1a1a">0.020</text>
<line x1="43.65" y1="526.4" x2="43.65" y2="529" stroke="#2b2b2b" stroke-width="1"/>
<text x="43.65" y="536.9" text-anchor="middle" style="font-family:'Liberation Serif',serif;font-weight:bold;font-size:7.2px" fill="#1a1a1a">0</text>
<line x1="64.55" y1="526.4" x2="64.55" y2="529" stroke="#2b2b2b" stroke-width="1"/>
<text x="64.55" y="536.9" text-anchor="middle" style="font-family:'Liberation Serif',serif;font-weight:bold;font-size:7.2px" fill="#1a1a1a">50</text>
<line x1="85.45" y1="526.4" x2="85.45" y2="529" stroke="#2b2b2b" stroke-width="1"/>
<text x="85.45" y="536.9" text-anchor="middle" style="font-family:'Liberation Serif',serif;font-weight:bold;font-size:7.2px" fill="#1a1a1a">100</text>
<line x1="106.35" y1="526.4" x2="106.35" y2="529" stroke="#2b2b2b" stroke-width="1"/>
<text x="106.35" y="536.9" text-anchor="middle" style="font-family:'Liberation Serif',serif;font-weight:bold;font-size:7.2px" fill="#1a1a1a">150</text>
<line x1="127.25" y1="526.4" x2="127.25" y2="529" stroke="#2b2b2b" stroke-width="1"/>
<text x="127.25" y="536.9" text-anchor="middle" style="font-family:'Liberation Serif',serif;font-weight:bold;font-size:7.2px" fill="#1a1a1a">200</text>
<line x1="148.15" y1="526.4" x2="148.15" y2="529" stroke="#2b2b2b" stroke-width="1"/>
<text x="148.15" y="536.9" text-anchor="middle" style="font-family:'Liberation Serif',serif;font-weight:bold;font-size:7.2px" fill="#1a1a1a">250</text>
<line x1="169.05" y1="526.4" x2="169.05" y2="529" stroke="#2b2b2b" stroke-width="1"/>
<text x="169.05" y="536.9" text-anchor="middle" style="font-family:'Liberation Serif',serif;font-weight:bold;font-size:7.2px" fill="#1a1a1a">300</text>
<text x="32.9" y="407" style="font-family:'Liberation Serif',serif;font-weight:bold;font-size:7.8px" fill="#1a1a1a">(j)</text>
<text x="99.4" y="407.7" text-anchor="middle" style="font-family:'Liberation Serif',serif;font-weight:bold;font-style:italic;font-size:7.8px" fill="#1a1a1a">A. hendersonii</text>
<text x="110.35" y="545.5" text-anchor="middle" style="font-family:'Liberation Serif',serif;font-weight:bold;font-size:7.8px" fill="#1a1a1a">Time (min)</text>
<clipPath id="c13"><rect x="203.4" y="409.8" width="146.2" height="116.6"/></clipPath>
<g clip-path="url(#c13)">
<path d="M220.11,421.35 L223.16,447.87 L226.21,461.87 L229.27,470.34 L232.32,475.92 L235.37,479.86 L238.42,482.81 L241.48,485.12 L244.53,487 L247.58,488.59 L250.63,489.95 L253.69,491.16 L256.74,492.24 L259.79,493.22 L262.84,494.13 L265.9,494.96 L268.95,495.74 L272,496.48 L275.05,497.18 L278.11,497.84 L281.16,498.48 L284.21,499.09 L287.26,499.68 L290.32,500.25 L293.37,500.8 L296.42,501.34 L299.47,501.86 L302.53,502.37 L305.58,502.87 L308.63,503.36 L311.68,503.84 L314.74,504.31 L317.79,504.77 L320.84,505.23 L323.89,505.68 L326.95,506.12 L330,506.56 L333.05,507 L336.1,507.43 L339.16,507.85 L339.16,514.05 L336.1,513.54 L333.05,513.03 L330,512.51 L326.95,511.98 L323.89,511.45 L320.84,510.92 L317.79,510.38 L314.74,509.83 L311.68,509.27 L308.63,508.7 L305.58,508.13 L302.53,507.55 L299.47,506.95 L296.42,506.34 L293.37,505.72 L290.32,505.08 L287.26,504.43 L284.21,503.76 L281.16,503.06 L278.11,502.34 L275.05,501.59 L272,500.81 L268.95,499.99 L265.9,499.13 L262.84,498.21 L259.79,497.24 L256.74,496.19 L253.69,495.04 L250.63,493.79 L247.58,492.4 L244.53,490.83 L241.48,489.02 L238.42,486.89 L235.37,484.31 L232.32,481.05 L229.27,476.72 L226.21,470.5 L223.16,460.52 L220.11,441.22 Z" fill="#4ec4ec" fill-opacity="0.4"/>
<path d="M220.11,447.37 L223.16,461.16 L226.21,469.04 L229.27,474.21 L232.32,477.9 L235.37,480.68 L238.42,482.88 L241.48,484.68 L244.53,486.2 L247.58,487.51 L250.63,488.66 L253.69,489.69 L256.74,490.62 L259.79,491.48 L262.84,492.27 L265.9,493.01 L268.95,493.7 L272,494.36 L275.05,494.98 L278.11,495.57 L281.16,496.14 L284.21,496.69 L287.26,497.22 L290.32,497.73 L293.37,498.22 L296.42,498.7 L299.47,499.17 L302.53,499.63 L305.58,500.08 L308.63,500.51 L311.68,500.94 L314.74,501.36 L317.79,501.78 L320.84,502.18 L323.89,502.58 L326.95,502.98 L330,503.37 L333.05,503.75 L336.1,504.13 L339.16,504.51 L339.16,506.91 L336.1,506.53 L333.05,506.15 L330,505.77 L326.95,505.38 L323.89,504.98 L320.84,504.58 L317.79,504.18 L314.74,503.76 L311.68,503.34 L308.63,502.91 L305.58,502.48 L302.53,502.03 L299.47,501.57 L296.42,501.1 L293.37,500.62 L290.32,500.13 L287.26,499.62 L284.21,499.09 L281.16,498.54 L278.11,497.97 L275.05,497.38 L272,496.76 L268.95,496.1 L265.9,495.41 L262.84,494.68 L259.79,493.89 L256.74,493.04 L253.69,492.13 L250.63,491.12 L247.58,490 L244.53,488.76 L241.48,487.34 L238.42,485.71 L235.37,483.78 L232.32,481.44 L229.27,478.47 L226.21,474.46 L223.16,468.48 L220.11,457.77 Z" fill="#f07aa5" fill-opacity="0.2"/>
<path d="M220.11,452.57 L223.16,464.82 L226.21,471.75 L229.27,476.34 L232.32,479.67 L235.37,482.23 L238.42,484.29 L241.48,486.01 L244.53,487.48 L247.58,488.75 L250.63,489.89 L253.69,490.91 L256.74,491.83 L259.79,492.68 L262.84,493.47 L265.9,494.21 L268.95,494.9 L272,495.56 L275.05,496.18 L278.11,496.77 L281.16,497.34 L284.21,497.89 L287.26,498.42 L290.32,498.93 L293.37,499.42 L296.42,499.9 L299.47,500.37 L302.53,500.83 L305.58,501.28 L308.63,501.71 L311.68,502.14 L314.74,502.56 L317.79,502.98 L320.84,503.38 L323.89,503.78 L326.95,504.18 L330,504.57 L333.05,504.95 L336.1,505.33 L339.16,505.71" fill="none" stroke="#f07aa5" stroke-width="1.3" stroke-opacity="1" stroke-linejoin="round" stroke-linecap="butt"/>
<path d="M220.11,436.55 L223.16,456.68 L226.21,467.21 L229.27,473.79 L232.32,478.34 L235.37,481.73 L238.42,484.37 L241.48,486.51 L244.53,488.31 L247.58,489.84 L250.63,491.19 L253.69,492.38 L256.74,493.45 L259.79,494.43 L262.84,495.33 L265.9,496.16 L268.95,496.95 L272,497.68 L275.05,498.38 L278.11,499.04 L281.16,499.68 L284.21,500.29 L287.26,500.88 L290.32,501.45 L293.37,502 L296.42,502.54 L299.47,503.06 L302.53,503.57 L305.58,504.07 L308.63,504.56 L311.68,505.04 L314.74,505.51 L317.79,505.97 L320.84,506.43 L323.89,506.88 L326.95,507.32 L330,507.76 L333.05,508.2 L336.1,508.63 L339.16,509.05" fill="none" stroke="#0a9fdc" stroke-width="1.6" stroke-opacity="1" stroke-linejoin="round" stroke-linecap="butt"/>
<circle cx="220.11" cy="448.4" r="1.3" fill="#f48fb8" fill-opacity="1"/>
<circle cx="226.37" cy="465.1" r="1.3" fill="#f48fb8" fill-opacity="1"/>
<circle cx="232.64" cy="479.6" r="1.3" fill="#f48fb8" fill-opacity="1"/>
<circle cx="238.91" cy="484.1" r="1.3" fill="#f48fb8" fill-opacity="1"/>
<circle cx="245.17" cy="492.4" r="1.3" fill="#f48fb8" fill-opacity="1"/>
<circle cx="251.44" cy="489.7" r="1.3" fill="#f48fb8" fill-opacity="1"/>
<circle cx="257.7" cy="497.2" r="1.3" fill="#f48fb8" fill-opacity="1"/>
<circle cx="263.97" cy="492.4" r="1.3" fill="#f48fb8" fill-opacity="1"/>
<circle cx="276.5" cy="495.8" r="1.3" fill="#f48fb8" fill-opacity="1"/>
<circle cx="289.03" cy="495.2" r="1.3" fill="#f48fb8" fill-opacity="1"/>
<circle cx="301.56" cy="500" r="1.3" fill="#f48fb8" fill-opacity="1"/>
<circle cx="314.09" cy="501.9" r="1.3" fill="#f48fb8" fill-opacity="1"/>
<circle cx="339.16" cy="506.4" r="1.3" fill="#f48fb8" fill-opacity="1"/>
<rect x="218.81" y="418.3" width="2.6" height="2.6" fill="#0a9ce0" fill-opacity="1"/>
<rect x="225.07" y="471.5" width="2.6" height="2.6" fill="#0a9ce0" fill-opacity="1"/>
<rect x="231.34" y="476.7" width="2.6" height="2.6" fill="#0a9ce0" fill-opacity="1"/>
<rect x="237.61" y="483.2" width="2.6" height="2.6" fill="#0a9ce0" fill-opacity="1"/>
<rect x="243.87" y="485.7" width="2.6" height="2.6" fill="#0a9ce0" fill-opacity="1"/>
<rect x="250.14" y="490.6" width="2.6" height="2.6" fill="#0a9ce0" fill-opacity="1"/>
<rect x="256.4" y="489.1" width="2.6" height="2.6" fill="#0a9ce0" fill-opacity="1"/>
<rect x="262.67" y="493.7" width="2.6" height="2.6" fill="#0a9ce0" fill-opacity="1"/>
<rect x="275.2" y="496.7" width="2.6" height="2.6" fill="#0a9ce0" fill-opacity="1"/>
<rect x="287.73" y="499.6" width="2.6" height="2.6" fill="#0a9ce0" fill-opacity="1"/>
<rect x="300.26" y="501.8" width="2.6" height="2.6" fill="#0a9ce0" fill-opacity="1"/>
<rect x="312.79" y="504.1" width="2.6" height="2.6" fill="#0a9ce0" fill-opacity="1"/>
<rect x="337.86" y="509.4" width="2.6" height="2.6" fill="#0a9ce0" fill-opacity="1"/>
</g>
<rect x="203.4" y="409.8" width="146.2" height="116.6" fill="none" stroke="#2b2b2b" stroke-width="1.2"/>
<line x1="200.8" y1="512.08" x2="203.4" y2="512.08" stroke="#2b2b2b" stroke-width="1"/>
<text x="199.8" y="515.68" text-anchor="end" style="font-family:'Liberation Serif',serif;font-weight:bold;font-size:7.5px" fill="#1a1a1a">0.005</text>
<line x1="200.8" y1="486.51" x2="203.4" y2="486.51" stroke="#2b2b2b" stroke-width="1"/>
<text x="199.8" y="490.11" text-anchor="end" style="font-family:'Liberation Serif',serif;font-weight:bold;font-size:7.5px" fill="#1a1a1a">0.010</text>
<line x1="200.8" y1="460.94" x2="203.4" y2="460.94" stroke="#2b2b2b" stroke-width="1"/>
<text x="199.8" y="464.54" text-anchor="end" style="font-family:'Liberation Serif',serif;font-weight:bold;font-size:7.5px" fill="#1a1a1a">0.015</text>
<line x1="200.8" y1="435.37" x2="203.4" y2="435.37" stroke="#2b2b2b" stroke-width="1"/>
<text x="199.8" y="438.97" text-anchor="end" style="font-family:'Liberation Serif',serif;font-weight:bold;font-size:7.5px" fill="#1a1a1a">0.020</text>
<line x1="200.8" y1="409.8" x2="203.4" y2="409.8" stroke="#2b2b2b" stroke-width="1"/>
<text x="199.8" y="413.4" text-anchor="end" style="font-family:'Liberation Serif',serif;font-weight:bold;font-size:7.5px" fill="#1a1a1a">0.025</text>
<line x1="213.84" y1="526.4" x2="213.84" y2="529" stroke="#2b2b2b" stroke-width="1"/>
<text x="213.84" y="536.9" text-anchor="middle" style="font-family:'Liberation Serif',serif;font-weight:bold;font-size:7.2px" fill="#1a1a1a">0</text>
<line x1="234.73" y1="526.4" x2="234.73" y2="529" stroke="#2b2b2b" stroke-width="1"/>
<text x="234.73" y="536.9" text-anchor="middle" style="font-family:'Liberation Serif',serif;font-weight:bold;font-size:7.2px" fill="#1a1a1a">50</text>
<line x1="255.61" y1="526.4" x2="255.61" y2="529" stroke="#2b2b2b" stroke-width="1"/>
<text x="255.61" y="536.9" text-anchor="middle" style="font-family:'Liberation Serif',serif;font-weight:bold;font-size:7.2px" fill="#1a1a1a">100</text>
<line x1="276.5" y1="526.4" x2="276.5" y2="529" stroke="#2b2b2b" stroke-width="1"/>
<text x="276.5" y="536.9" text-anchor="middle" style="font-family:'Liberation Serif',serif;font-weight:bold;font-size:7.2px" fill="#1a1a1a">150</text>
<line x1="297.39" y1="526.4" x2="297.39" y2="529" stroke="#2b2b2b" stroke-width="1"/>
<text x="297.39" y="536.9" text-anchor="middle" style="font-family:'Liberation Serif',serif;font-weight:bold;font-size:7.2px" fill="#1a1a1a">200</text>
<line x1="318.27" y1="526.4" x2="318.27" y2="529" stroke="#2b2b2b" stroke-width="1"/>
<text x="318.27" y="536.9" text-anchor="middle" style="font-family:'Liberation Serif',serif;font-weight:bold;font-size:7.2px" fill="#1a1a1a">250</text>
<line x1="339.16" y1="526.4" x2="339.16" y2="529" stroke="#2b2b2b" stroke-width="1"/>
<text x="339.16" y="536.9" text-anchor="middle" style="font-family:'Liberation Serif',serif;font-weight:bold;font-size:7.2px" fill="#1a1a1a">300</text>
<text x="203.1" y="407" style="font-family:'Liberation Serif',serif;font-weight:bold;font-size:7.8px" fill="#1a1a1a">(k)</text>
<text x="274.9" y="407.7" text-anchor="middle" style="font-family:'Liberation Serif',serif;font-weight:bold;font-style:italic;font-size:7.8px" fill="#1a1a1a">G. uralensis</text>
<text x="277" y="545.5" text-anchor="middle" style="font-family:'Liberation Serif',serif;font-weight:bold;font-size:7.8px" fill="#1a1a1a">Time (min)</text>
<clipPath id="c23"><rect x="373.1" y="409.8" width="146.3" height="116.6"/></clipPath>
<g clip-path="url(#c23)">
<line x1="404.45" y1="409.8" x2="404.45" y2="526.4" stroke="#1a1a1a" stroke-width="1.5" stroke-dasharray="1.5,5.35" stroke-dashoffset="-5.9"/>
<line x1="469.24" y1="409.8" x2="469.24" y2="526.4" stroke="#1a1a1a" stroke-width="1.5" stroke-dasharray="1.5,5.35" stroke-dashoffset="-5.9"/>
<path d="M389.81,447.37 L392.86,461.16 L395.91,469.04 L398.97,474.21 L402.02,477.9 L405.07,480.68 L408.12,482.88 L411.18,484.68 L414.23,486.2 L417.28,487.51 L420.33,488.66 L423.39,489.69 L426.44,490.62 L429.49,491.48 L432.54,492.27 L435.6,493.01 L438.65,493.7 L441.7,494.36 L444.75,494.98 L447.81,495.57 L450.86,496.14 L453.91,496.69 L456.96,497.22 L460.02,497.73 L463.07,498.22 L466.12,498.7 L469.17,499.17 L472.23,499.63 L475.28,500.08 L478.33,500.51 L481.38,500.94 L484.44,501.36 L487.49,501.78 L490.54,502.18 L493.59,502.58 L496.65,502.98 L499.7,503.37 L502.75,503.75 L505.8,504.13 L508.86,504.51 L508.86,506.91 L505.8,506.53 L502.75,506.15 L499.7,505.77 L496.65,505.38 L493.59,504.98 L490.54,504.58 L487.49,504.18 L484.44,503.76 L481.38,503.34 L478.33,502.91 L475.28,502.48 L472.23,502.03 L469.17,501.57 L466.12,501.1 L463.07,500.62 L460.02,500.13 L456.96,499.62 L453.91,499.09 L450.86,498.54 L447.81,497.97 L444.75,497.38 L441.7,496.76 L438.65,496.1 L435.6,495.41 L432.54,494.68 L429.49,493.89 L426.44,493.04 L423.39,492.13 L420.33,491.12 L417.28,490 L414.23,488.76 L411.18,487.34 L408.12,485.71 L405.07,483.78 L402.02,481.44 L398.97,478.47 L395.91,474.46 L392.86,468.48 L389.81,457.77 Z" fill="#f07aa5" fill-opacity="0.2"/>
<path d="M389.81,452.57 L392.86,464.82 L395.91,471.75 L398.97,476.34 L402.02,479.67 L405.07,482.23 L408.12,484.29 L411.18,486.01 L414.23,487.48 L417.28,488.75 L420.33,489.89 L423.39,490.91 L426.44,491.83 L429.49,492.68 L432.54,493.47 L435.6,494.21 L438.65,494.9 L441.7,495.56 L444.75,496.18 L447.81,496.77 L450.86,497.34 L453.91,497.89 L456.96,498.42 L460.02,498.93 L463.07,499.42 L466.12,499.9 L469.17,500.37 L472.23,500.83 L475.28,501.28 L478.33,501.71 L481.38,502.14 L484.44,502.56 L487.49,502.98 L490.54,503.38 L493.59,503.78 L496.65,504.18 L499.7,504.57 L502.75,504.95 L505.8,505.33 L508.86,505.71" fill="none" stroke="#f07aa5" stroke-width="1.3" stroke-opacity="1" stroke-linejoin="round" stroke-linecap="butt"/>
<circle cx="389.82" cy="448.4" r="1.3" fill="#f48fb8" fill-opacity="1"/>
<circle cx="396.09" cy="465.1" r="1.3" fill="#f48fb8" fill-opacity="1"/>
<circle cx="402.36" cy="479.6" r="1.3" fill="#f48fb8" fill-opacity="1"/>
<circle cx="408.63" cy="484.1" r="1.3" fill="#f48fb8" fill-opacity="1"/>
<circle cx="414.9" cy="492.4" r="1.3" fill="#f48fb8" fill-opacity="1"/>
<circle cx="421.17" cy="489.7" r="1.3" fill="#f48fb8" fill-opacity="1"/>
<circle cx="427.44" cy="497.2" r="1.3" fill="#f48fb8" fill-opacity="1"/>
<circle cx="433.71" cy="492.4" r="1.3" fill="#f48fb8" fill-opacity="1"/>
<circle cx="446.25" cy="495.8" r="1.3" fill="#f48fb8" fill-opacity="1"/>
<circle cx="458.79" cy="495.2" r="1.3" fill="#f48fb8" fill-opacity="1"/>
<circle cx="471.33" cy="500" r="1.3" fill="#f48fb8" fill-opacity="1"/>
<circle cx="483.87" cy="501.9" r="1.3" fill="#f48fb8" fill-opacity="1"/>
<circle cx="508.95" cy="506.4" r="1.3" fill="#f48fb8" fill-opacity="1"/>
</g>
<rect x="373.1" y="409.8" width="146.3" height="116.6" fill="none" stroke="#2b2b2b" stroke-width="1.2"/>
<line x1="370.5" y1="512.08" x2="373.1" y2="512.08" stroke="#2b2b2b" stroke-width="1"/>
<text x="369.5" y="515.68" text-anchor="end" style="font-family:'Liberation Serif',serif;font-weight:bold;font-size:7.5px" fill="#1a1a1a">0.005</text>
<line x1="370.5" y1="486.51" x2="373.1" y2="486.51" stroke="#2b2b2b" stroke-width="1"/>
<text x="369.5" y="490.11" text-anchor="end" style="font-family:'Liberation Serif',serif;font-weight:bold;font-size:7.5px" fill="#1a1a1a">0.010</text>
<line x1="370.5" y1="460.94" x2="373.1" y2="460.94" stroke="#2b2b2b" stroke-width="1"/>
<text x="369.5" y="464.54" text-anchor="end" style="font-family:'Liberation Serif',serif;font-weight:bold;font-size:7.5px" fill="#1a1a1a">0.015</text>
<line x1="370.5" y1="435.37" x2="373.1" y2="435.37" stroke="#2b2b2b" stroke-width="1"/>
<text x="369.5" y="438.97" text-anchor="end" style="font-family:'Liberation Serif',serif;font-weight:bold;font-size:7.5px" fill="#1a1a1a">0.020</text>
<line x1="370.5" y1="409.8" x2="373.1" y2="409.8" stroke="#2b2b2b" stroke-width="1"/>
<text x="369.5" y="413.4" text-anchor="end" style="font-family:'Liberation Serif',serif;font-weight:bold;font-size:7.5px" fill="#1a1a1a">0.025</text>
<line x1="383.55" y1="526.4" x2="383.55" y2="529" stroke="#2b2b2b" stroke-width="1"/>
<text x="383.55" y="536.9" text-anchor="middle" style="font-family:'Liberation Serif',serif;font-weight:bold;font-size:7.2px" fill="#1a1a1a">0</text>
<line x1="404.45" y1="526.4" x2="404.45" y2="529" stroke="#2b2b2b" stroke-width="1"/>
<text x="404.45" y="536.9" text-anchor="middle" style="font-family:'Liberation Serif',serif;font-weight:bold;font-size:7.2px" fill="#1a1a1a">50</text>
<line x1="425.35" y1="526.4" x2="425.35" y2="529" stroke="#2b2b2b" stroke-width="1"/>
<text x="425.35" y="536.9" text-anchor="middle" style="font-family:'Liberation Serif',serif;font-weight:bold;font-size:7.2px" fill="#1a1a1a">100</text>
<line x1="446.25" y1="526.4" x2="446.25" y2="529" stroke="#2b2b2b" stroke-width="1"/>
<text x="446.25" y="536.9" text-anchor="middle" style="font-family:'Liberation Serif',serif;font-weight:bold;font-size:7.2px" fill="#1a1a1a">150</text>
<line x1="467.15" y1="526.4" x2="467.15" y2="529" stroke="#2b2b2b" stroke-width="1"/>
<text x="467.15" y="536.9" text-anchor="middle" style="font-family:'Liberation Serif',serif;font-weight:bold;font-size:7.2px" fill="#1a1a1a">200</text>
<line x1="488.05" y1="526.4" x2="488.05" y2="529" stroke="#2b2b2b" stroke-width="1"/>
<text x="488.05" y="536.9" text-anchor="middle" style="font-family:'Liberation Serif',serif;font-weight:bold;font-size:7.2px" fill="#1a1a1a">250</text>
<line x1="508.95" y1="526.4" x2="508.95" y2="529" stroke="#2b2b2b" stroke-width="1"/>
<text x="508.95" y="536.9" text-anchor="middle" style="font-family:'Liberation Serif',serif;font-weight:bold;font-size:7.2px" fill="#1a1a1a">300</text>
<text x="372.8" y="407" style="font-family:'Liberation Serif',serif;font-weight:bold;font-size:7.8px" fill="#1a1a1a">(l)</text>
<text x="444.1" y="407.7" text-anchor="middle" style="font-family:'Liberation Serif',serif;font-weight:bold;font-style:italic;font-size:7.8px" fill="#1a1a1a">G. uralensis</text>
<text x="381.8" y="437.3" style="font-family:'Liberation Serif',serif;font-weight:bold;font-size:10px" fill="#1a1a1a">fast</text>
<text x="431.5" y="437.3" style="font-family:'Liberation Serif',serif;font-weight:bold;font-size:10px" fill="#1a1a1a">slow</text>
<text x="472.4" y="437.3" style="font-family:'Liberation Serif',serif;font-weight:bold;font-size:10px" fill="#1a1a1a">saturation</text>
<text x="446.8" y="545.5" text-anchor="middle" style="font-family:'Liberation Serif',serif;font-weight:bold;font-size:7.8px" fill="#1a1a1a">Time (min)</text>
<text transform="translate(13.7,70.5) rotate(-90)" text-anchor="middle" style="font-family:'Liberation Serif',serif;font-weight:bold;font-size:8px" fill="#1a1a1a">FWU<tspan style="font-size:5px" dy="1.5">capacity</tspan><tspan dy="-1.5"> (mg·cm</tspan><tspan style="font-size:5px" dy="-2.5">−2</tspan><tspan dy="2.5">)</tspan></text>
<text transform="translate(13.7,196.5) rotate(-90)" text-anchor="middle" style="font-family:'Liberation Serif',serif;font-weight:bold;font-size:8px" fill="#1a1a1a">FWU<tspan style="font-size:5px" dy="1.5">capacity</tspan><tspan dy="-1.5"> (mg·cm</tspan><tspan style="font-size:5px" dy="-2.5">−2</tspan><tspan dy="2.5">)</tspan></text>
<text transform="translate(11.2,335) rotate(-90)" text-anchor="middle" style="font-family:'Liberation Serif',serif;font-weight:bold;font-size:7.4px" fill="#1a1a1a"><tspan style="font-style:italic">k</tspan> (mg·cm<tspan style="font-size:5px" dy="-2.5">−2</tspan><tspan dy="2.5">·min</tspan><tspan style="font-size:5px" dy="-2.5">−1</tspan><tspan dy="2.5">)</tspan></text>
<text transform="translate(11.2,463) rotate(-90)" text-anchor="middle" style="font-family:'Liberation Serif',serif;font-weight:bold;font-size:7.4px" fill="#1a1a1a"><tspan style="font-style:italic">k</tspan> (mg·cm<tspan style="font-size:5px" dy="-2.5">−2</tspan><tspan dy="2.5">·min</tspan><tspan style="font-size:5px" dy="-2.5">−1</tspan><tspan dy="2.5">)</tspan></text>
</svg></body></html>
